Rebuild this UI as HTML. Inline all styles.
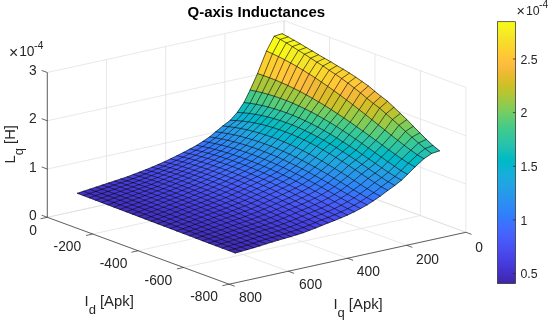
<!DOCTYPE html><html><head><meta charset="utf-8"><title>Q-axis Inductances</title><style>html,body{margin:0;padding:0;background:#fff;}svg{display:block;}</style></head><body><svg width="550" height="323" viewBox="0 0 550 323" font-family="Liberation Sans, Arial, Helvetica, sans-serif"><rect width="550" height="323" fill="#fff"/><defs><linearGradient id="pg" x1="0" y1="0" x2="0" y2="1"><stop offset="0.0000" stop-color="#f9fb15"/><stop offset="0.0159" stop-color="#f7f51b"/><stop offset="0.0317" stop-color="#f6ef20"/><stop offset="0.0476" stop-color="#f5e924"/><stop offset="0.0635" stop-color="#f5e327"/><stop offset="0.0794" stop-color="#f7dc2a"/><stop offset="0.0952" stop-color="#fad62d"/><stop offset="0.1111" stop-color="#fccf30"/><stop offset="0.1270" stop-color="#fec934"/><stop offset="0.1429" stop-color="#fec338"/><stop offset="0.1587" stop-color="#febe3c"/><stop offset="0.1746" stop-color="#f8ba3d"/><stop offset="0.1905" stop-color="#f0ba36"/><stop offset="0.2063" stop-color="#e6bb2d"/><stop offset="0.2222" stop-color="#dcbd29"/><stop offset="0.2381" stop-color="#d1bf27"/><stop offset="0.2540" stop-color="#c5c22a"/><stop offset="0.2698" stop-color="#b9c431"/><stop offset="0.2857" stop-color="#abc739"/><stop offset="0.3016" stop-color="#9dc943"/><stop offset="0.3175" stop-color="#8fcb4e"/><stop offset="0.3333" stop-color="#81cc59"/><stop offset="0.3492" stop-color="#72cd64"/><stop offset="0.3651" stop-color="#64cd6f"/><stop offset="0.3810" stop-color="#57cc7a"/><stop offset="0.3968" stop-color="#4acb84"/><stop offset="0.4127" stop-color="#3fca8e"/><stop offset="0.4286" stop-color="#37c897"/><stop offset="0.4444" stop-color="#31c69f"/><stop offset="0.4603" stop-color="#2cc4a7"/><stop offset="0.4762" stop-color="#24c1ae"/><stop offset="0.4921" stop-color="#19bfb6"/><stop offset="0.5079" stop-color="#0bbdbd"/><stop offset="0.5238" stop-color="#02bac3"/><stop offset="0.5397" stop-color="#01b8ca"/><stop offset="0.5556" stop-color="#08b5d0"/><stop offset="0.5714" stop-color="#12b1d6"/><stop offset="0.5873" stop-color="#18addb"/><stop offset="0.6032" stop-color="#1ca9df"/><stop offset="0.6190" stop-color="#20a5e3"/><stop offset="0.6349" stop-color="#23a0e5"/><stop offset="0.6508" stop-color="#259be8"/><stop offset="0.6667" stop-color="#2797eb"/><stop offset="0.6825" stop-color="#2b91ef"/><stop offset="0.6984" stop-color="#2d8cf3"/><stop offset="0.7143" stop-color="#2e87f7"/><stop offset="0.7302" stop-color="#2f81fa"/><stop offset="0.7460" stop-color="#327cfc"/><stop offset="0.7619" stop-color="#3875fe"/><stop offset="0.7778" stop-color="#3e6fff"/><stop offset="0.7937" stop-color="#4269fe"/><stop offset="0.8095" stop-color="#4563fd"/><stop offset="0.8254" stop-color="#465efb"/><stop offset="0.8413" stop-color="#4758f8"/><stop offset="0.8571" stop-color="#4852f4"/><stop offset="0.8730" stop-color="#484df0"/><stop offset="0.8889" stop-color="#4747eb"/><stop offset="0.9048" stop-color="#4741e5"/><stop offset="0.9206" stop-color="#463cde"/><stop offset="0.9365" stop-color="#4537d5"/><stop offset="0.9524" stop-color="#4332cb"/><stop offset="0.9683" stop-color="#422ec0"/><stop offset="0.9841" stop-color="#402ab4"/><stop offset="1.0000" stop-color="#3e26a8"/></linearGradient></defs>
<line x1="47.30" y1="217.30" x2="284.10" y2="165.40" stroke="#dedede" stroke-width="0.70"/>
<line x1="284.10" y1="165.40" x2="284.10" y2="20.59" stroke="#dedede" stroke-width="0.70"/>
<line x1="229.10" y1="284.20" x2="47.30" y2="217.30" stroke="#dedede" stroke-width="0.70"/>
<line x1="47.30" y1="217.30" x2="47.30" y2="72.49" stroke="#dedede" stroke-width="0.70"/>
<line x1="92.75" y1="234.03" x2="329.55" y2="182.13" stroke="#dedede" stroke-width="0.70"/>
<line x1="329.55" y1="182.13" x2="329.55" y2="37.32" stroke="#dedede" stroke-width="0.70"/>
<line x1="288.30" y1="271.23" x2="106.50" y2="204.33" stroke="#dedede" stroke-width="0.70"/>
<line x1="106.50" y1="204.33" x2="106.50" y2="59.52" stroke="#dedede" stroke-width="0.70"/>
<line x1="138.20" y1="250.75" x2="375.00" y2="198.85" stroke="#dedede" stroke-width="0.70"/>
<line x1="375.00" y1="198.85" x2="375.00" y2="54.04" stroke="#dedede" stroke-width="0.70"/>
<line x1="347.50" y1="258.25" x2="165.70" y2="191.35" stroke="#dedede" stroke-width="0.70"/>
<line x1="165.70" y1="191.35" x2="165.70" y2="46.54" stroke="#dedede" stroke-width="0.70"/>
<line x1="183.65" y1="267.48" x2="420.45" y2="215.58" stroke="#dedede" stroke-width="0.70"/>
<line x1="420.45" y1="215.58" x2="420.45" y2="70.77" stroke="#dedede" stroke-width="0.70"/>
<line x1="406.70" y1="245.28" x2="224.90" y2="178.38" stroke="#dedede" stroke-width="0.70"/>
<line x1="224.90" y1="178.38" x2="224.90" y2="33.57" stroke="#dedede" stroke-width="0.70"/>
<line x1="229.10" y1="284.20" x2="465.90" y2="232.30" stroke="#dedede" stroke-width="0.70"/>
<line x1="465.90" y1="232.30" x2="465.90" y2="87.49" stroke="#dedede" stroke-width="0.70"/>
<line x1="465.90" y1="232.30" x2="284.10" y2="165.40" stroke="#dedede" stroke-width="0.70"/>
<line x1="284.10" y1="165.40" x2="284.10" y2="20.59" stroke="#dedede" stroke-width="0.70"/>
<line x1="47.30" y1="217.30" x2="284.10" y2="165.40" stroke="#dedede" stroke-width="0.70"/>
<line x1="284.10" y1="165.40" x2="465.90" y2="232.30" stroke="#dedede" stroke-width="0.70"/>
<line x1="47.30" y1="169.03" x2="284.10" y2="117.13" stroke="#dedede" stroke-width="0.70"/>
<line x1="284.10" y1="117.13" x2="465.90" y2="184.03" stroke="#dedede" stroke-width="0.70"/>
<line x1="47.30" y1="120.76" x2="284.10" y2="68.86" stroke="#dedede" stroke-width="0.70"/>
<line x1="284.10" y1="68.86" x2="465.90" y2="135.76" stroke="#dedede" stroke-width="0.70"/>
<line x1="47.30" y1="72.49" x2="284.10" y2="20.59" stroke="#dedede" stroke-width="0.70"/>
<line x1="284.10" y1="20.59" x2="465.90" y2="87.49" stroke="#dedede" stroke-width="0.70"/>
<g stroke-width="0.35" stroke-linejoin="round"><polygon points="282.10,33.70 288.11,36.87 280.21,39.38 274.20,36.16" fill="#f9fb15" stroke="#f9fb15"/><polygon points="288.11,36.87 294.14,40.27 286.24,42.88 280.21,39.38" fill="#f9fb15" stroke="#f9fb15"/><polygon points="294.14,40.27 300.20,43.80 292.30,46.56 286.24,42.88" fill="#f7f51b" stroke="#f7f51b"/><polygon points="300.20,43.80 306.28,47.46 298.38,50.40 292.30,46.56" fill="#f7f51b" stroke="#f7f51b"/><polygon points="306.28,47.46 312.38,51.03 304.48,54.17 298.38,50.40" fill="#f6ef20" stroke="#f6ef20"/><polygon points="312.38,51.03 318.51,54.74 310.61,58.13 304.48,54.17" fill="#f5e924" stroke="#f5e924"/><polygon points="318.51,54.74 324.66,58.36 316.77,62.09 310.61,58.13" fill="#f5e327" stroke="#f5e327"/><polygon points="324.66,58.36 330.84,61.79 322.94,65.93 316.77,62.09" fill="#f5e327" stroke="#f5e327"/><polygon points="330.84,61.79 337.04,65.65 329.14,70.23 322.94,65.93" fill="#f7dc2a" stroke="#f7dc2a"/><polygon points="337.04,65.65 343.26,69.22 335.37,74.21 329.14,70.23" fill="#fad62d" stroke="#fad62d"/><polygon points="343.26,69.22 349.51,73.06 341.62,78.48 335.37,74.21" fill="#fccf30" stroke="#fccf30"/><polygon points="349.51,73.06 355.78,77.16 347.89,83.08 341.62,78.48" fill="#fccf30" stroke="#fccf30"/><polygon points="355.78,77.16 362.08,81.47 354.19,87.88 347.89,83.08" fill="#fec934" stroke="#fec934"/><polygon points="362.08,81.47 368.40,85.99 360.51,92.81 354.19,87.88" fill="#fec338" stroke="#fec338"/><polygon points="368.40,85.99 374.74,91.23 366.85,98.25 360.51,92.81" fill="#f8ba3d" stroke="#f8ba3d"/><polygon points="374.74,91.23 381.11,96.39 373.22,103.39 366.85,98.25" fill="#f0ba36" stroke="#f0ba36"/><polygon points="381.11,96.39 387.50,101.29 379.61,108.10 373.22,103.39" fill="#dcbd29" stroke="#dcbd29"/><polygon points="387.50,101.29 393.92,107.25 386.03,113.75 379.61,108.10" fill="#d1bf27" stroke="#d1bf27"/><polygon points="393.92,107.25 400.36,113.41 392.47,119.51 386.03,113.75" fill="#b9c431" stroke="#b9c431"/><polygon points="400.36,113.41 406.82,119.57 398.93,125.24 392.47,119.51" fill="#9dc943" stroke="#9dc943"/><polygon points="406.82,119.57 413.31,126.28 405.42,131.37 398.93,125.24" fill="#81cc59" stroke="#81cc59"/><polygon points="413.31,126.28 419.82,132.82 411.93,137.14 405.42,131.37" fill="#64cd6f" stroke="#64cd6f"/><polygon points="419.82,132.82 426.36,139.36 418.47,143.03 411.93,137.14" fill="#4acb84" stroke="#4acb84"/><polygon points="426.36,139.36 432.92,145.43 425.03,148.58 418.47,143.03" fill="#31c69f" stroke="#31c69f"/><polygon points="432.92,145.43 439.50,150.80 431.62,153.50 425.03,148.58" fill="#24c1ae" stroke="#24c1ae"/><polygon points="274.20,36.16 280.21,39.38 272.51,53.72 266.50,51.00" fill="#f9fb15" stroke="#f9fb15"/><polygon points="280.21,39.38 286.24,42.88 278.54,56.64 272.51,53.72" fill="#f9fb15" stroke="#f9fb15"/><polygon points="286.24,42.88 292.30,46.56 284.60,59.73 278.54,56.64" fill="#f7f51b" stroke="#f7f51b"/><polygon points="292.30,46.56 298.38,50.40 290.68,63.01 284.60,59.73" fill="#f6ef20" stroke="#f6ef20"/><polygon points="298.38,50.40 304.48,54.17 296.79,66.47 290.68,63.01" fill="#f5e924" stroke="#f5e924"/><polygon points="304.48,54.17 310.61,58.13 302.92,70.10 296.79,66.47" fill="#f5e327" stroke="#f5e327"/><polygon points="310.61,58.13 316.77,62.09 309.07,73.91 302.92,70.10" fill="#f7dc2a" stroke="#f7dc2a"/><polygon points="316.77,62.09 322.94,65.93 315.25,77.87 309.07,73.91" fill="#f7dc2a" stroke="#f7dc2a"/><polygon points="322.94,65.93 329.14,70.23 321.45,82.00 315.25,77.87" fill="#fad62d" stroke="#fad62d"/><polygon points="329.14,70.23 335.37,74.21 327.67,86.28 321.45,82.00" fill="#fccf30" stroke="#fccf30"/><polygon points="335.37,74.21 341.62,78.48 333.92,90.70 327.67,86.28" fill="#fec934" stroke="#fec934"/><polygon points="341.62,78.48 347.89,83.08 340.20,95.25 333.92,90.70" fill="#fec338" stroke="#fec338"/><polygon points="347.89,83.08 354.19,87.88 346.49,99.94 340.20,95.25" fill="#f8ba3d" stroke="#f8ba3d"/><polygon points="354.19,87.88 360.51,92.81 352.81,104.74 346.49,99.94" fill="#f0ba36" stroke="#f0ba36"/><polygon points="360.51,92.81 366.85,98.25 359.16,109.65 352.81,104.74" fill="#e6bb2d" stroke="#e6bb2d"/><polygon points="366.85,98.25 373.22,103.39 365.53,114.64 359.16,109.65" fill="#d1bf27" stroke="#d1bf27"/><polygon points="373.22,103.39 379.61,108.10 371.92,119.72 365.53,114.64" fill="#c5c22a" stroke="#c5c22a"/><polygon points="379.61,108.10 386.03,113.75 378.34,124.84 371.92,119.72" fill="#abc739" stroke="#abc739"/><polygon points="386.03,113.75 392.47,119.51 384.78,130.00 378.34,124.84" fill="#9dc943" stroke="#9dc943"/><polygon points="392.47,119.51 398.93,125.24 391.24,135.16 384.78,130.00" fill="#81cc59" stroke="#81cc59"/><polygon points="398.93,125.24 405.42,131.37 397.73,140.29 391.24,135.16" fill="#64cd6f" stroke="#64cd6f"/><polygon points="405.42,131.37 411.93,137.14 404.25,145.33 397.73,140.29" fill="#4acb84" stroke="#4acb84"/><polygon points="411.93,137.14 418.47,143.03 410.78,150.21 404.25,145.33" fill="#37c897" stroke="#37c897"/><polygon points="418.47,143.03 425.03,148.58 417.35,154.80 410.78,150.21" fill="#2cc4a7" stroke="#2cc4a7"/><polygon points="425.03,148.58 431.62,153.50 423.93,158.72 417.35,154.80" fill="#24c1ae" stroke="#24c1ae"/><polygon points="266.50,51.00 272.51,53.72 263.51,75.59 257.50,73.60" fill="#fccf30" stroke="#fccf30"/><polygon points="272.51,53.72 278.54,56.64 269.54,77.78 263.51,75.59" fill="#fccf30" stroke="#fccf30"/><polygon points="278.54,56.64 284.60,59.73 275.60,80.16 269.54,77.78" fill="#fec934" stroke="#fec934"/><polygon points="284.60,59.73 290.68,63.01 281.68,82.73 275.60,80.16" fill="#fec934" stroke="#fec934"/><polygon points="290.68,63.01 296.79,66.47 287.79,85.49 281.68,82.73" fill="#fec338" stroke="#fec338"/><polygon points="296.79,66.47 302.92,70.10 293.92,88.43 287.79,85.49" fill="#fec338" stroke="#fec338"/><polygon points="302.92,70.10 309.07,73.91 300.07,91.54 293.92,88.43" fill="#febe3c" stroke="#febe3c"/><polygon points="309.07,73.91 315.25,77.87 306.25,94.83 300.07,91.54" fill="#f8ba3d" stroke="#f8ba3d"/><polygon points="315.25,77.87 321.45,82.00 312.45,98.29 306.25,94.83" fill="#f0ba36" stroke="#f0ba36"/><polygon points="321.45,82.00 327.67,86.28 318.68,101.91 312.45,98.29" fill="#e6bb2d" stroke="#e6bb2d"/><polygon points="327.67,86.28 333.92,90.70 324.93,105.68 318.68,101.91" fill="#dcbd29" stroke="#dcbd29"/><polygon points="333.92,90.70 340.20,95.25 331.20,109.61 324.93,105.68" fill="#d1bf27" stroke="#d1bf27"/><polygon points="340.20,95.25 346.49,99.94 337.50,113.68 331.20,109.61" fill="#c5c22a" stroke="#c5c22a"/><polygon points="346.49,99.94 352.81,104.74 343.82,117.87 337.50,113.68" fill="#b9c431" stroke="#b9c431"/><polygon points="352.81,104.74 359.16,109.65 350.17,122.19 343.82,117.87" fill="#9dc943" stroke="#9dc943"/><polygon points="359.16,109.65 365.53,114.64 356.54,126.62 350.17,122.19" fill="#8fcb4e" stroke="#8fcb4e"/><polygon points="365.53,114.64 371.92,119.72 362.93,131.14 356.54,126.62" fill="#81cc59" stroke="#81cc59"/><polygon points="371.92,119.72 378.34,124.84 369.35,135.74 362.93,131.14" fill="#64cd6f" stroke="#64cd6f"/><polygon points="378.34,124.84 384.78,130.00 375.79,140.39 369.35,135.74" fill="#57cc7a" stroke="#57cc7a"/><polygon points="384.78,130.00 391.24,135.16 382.26,145.08 375.79,140.39" fill="#3fca8e" stroke="#3fca8e"/><polygon points="391.24,135.16 397.73,140.29 388.75,149.76 382.26,145.08" fill="#37c897" stroke="#37c897"/><polygon points="397.73,140.29 404.25,145.33 395.26,154.40 388.75,149.76" fill="#2cc4a7" stroke="#2cc4a7"/><polygon points="404.25,145.33 410.78,150.21 401.80,158.92 395.26,154.40" fill="#24c1ae" stroke="#24c1ae"/><polygon points="410.78,150.21 417.35,154.80 408.36,163.22 401.80,158.92" fill="#0bbdbd" stroke="#0bbdbd"/><polygon points="417.35,154.80 423.93,158.72 414.95,166.96 408.36,163.22" fill="#02bac3" stroke="#02bac3"/><polygon points="257.50,73.60 263.51,75.59 256.11,91.28 250.10,90.10" fill="#abc739" stroke="#abc739"/><polygon points="263.51,75.59 269.54,77.78 262.15,92.69 256.11,91.28" fill="#abc739" stroke="#abc739"/><polygon points="269.54,77.78 275.60,80.16 268.20,94.34 262.15,92.69" fill="#abc739" stroke="#abc739"/><polygon points="275.60,80.16 281.68,82.73 274.29,96.21 268.20,94.34" fill="#abc739" stroke="#abc739"/><polygon points="281.68,82.73 287.79,85.49 280.39,98.30 274.29,96.21" fill="#abc739" stroke="#abc739"/><polygon points="287.79,85.49 293.92,88.43 286.52,100.62 280.39,98.30" fill="#abc739" stroke="#abc739"/><polygon points="293.92,88.43 300.07,91.54 292.68,103.15 286.52,100.62" fill="#9dc943" stroke="#9dc943"/><polygon points="300.07,91.54 306.25,94.83 298.86,105.90 292.68,103.15" fill="#9dc943" stroke="#9dc943"/><polygon points="306.25,94.83 312.45,98.29 305.06,108.85 298.86,105.90" fill="#8fcb4e" stroke="#8fcb4e"/><polygon points="312.45,98.29 318.68,101.91 311.29,112.00 305.06,108.85" fill="#8fcb4e" stroke="#8fcb4e"/><polygon points="318.68,101.91 324.93,105.68 317.54,115.35 311.29,112.00" fill="#81cc59" stroke="#81cc59"/><polygon points="324.93,105.68 331.20,109.61 323.81,118.88 317.54,115.35" fill="#72cd64" stroke="#72cd64"/><polygon points="331.20,109.61 337.50,113.68 330.11,122.60 323.81,118.88" fill="#64cd6f" stroke="#64cd6f"/><polygon points="337.50,113.68 343.82,117.87 336.43,126.48 330.11,122.60" fill="#57cc7a" stroke="#57cc7a"/><polygon points="343.82,117.87 350.17,122.19 342.78,130.52 336.43,126.48" fill="#4acb84" stroke="#4acb84"/><polygon points="350.17,122.19 356.54,126.62 349.15,134.70 342.78,130.52" fill="#3fca8e" stroke="#3fca8e"/><polygon points="356.54,126.62 362.93,131.14 355.54,139.02 349.15,134.70" fill="#37c897" stroke="#37c897"/><polygon points="362.93,131.14 369.35,135.74 361.96,143.45 355.54,139.02" fill="#31c69f" stroke="#31c69f"/><polygon points="369.35,135.74 375.79,140.39 368.40,147.96 361.96,143.45" fill="#2cc4a7" stroke="#2cc4a7"/><polygon points="375.79,140.39 382.26,145.08 374.87,152.55 368.40,147.96" fill="#24c1ae" stroke="#24c1ae"/><polygon points="382.26,145.08 388.75,149.76 381.36,157.16 374.87,152.55" fill="#0bbdbd" stroke="#0bbdbd"/><polygon points="388.75,149.76 395.26,154.40 387.88,161.76 381.36,157.16" fill="#02bac3" stroke="#02bac3"/><polygon points="395.26,154.40 401.80,158.92 394.41,166.27 387.88,161.76" fill="#01b8ca" stroke="#01b8ca"/><polygon points="401.80,158.92 408.36,163.22 400.98,170.59 394.41,166.27" fill="#08b5d0" stroke="#08b5d0"/><polygon points="408.36,163.22 414.95,166.96 407.56,174.35 400.98,170.59" fill="#12b1d6" stroke="#12b1d6"/><polygon points="250.10,90.10 256.11,91.28 250.01,103.27 244.00,102.50" fill="#3fca8e" stroke="#3fca8e"/><polygon points="256.11,91.28 262.15,92.69 256.05,104.28 250.01,103.27" fill="#4acb84" stroke="#4acb84"/><polygon points="262.15,92.69 268.20,94.34 262.11,105.53 256.05,104.28" fill="#4acb84" stroke="#4acb84"/><polygon points="268.20,94.34 274.29,96.21 268.19,107.02 262.11,105.53" fill="#4acb84" stroke="#4acb84"/><polygon points="274.29,96.21 280.39,98.30 274.30,108.75 268.19,107.02" fill="#57cc7a" stroke="#57cc7a"/><polygon points="280.39,98.30 286.52,100.62 280.43,110.71 274.30,108.75" fill="#57cc7a" stroke="#57cc7a"/><polygon points="286.52,100.62 292.68,103.15 286.58,112.89 280.43,110.71" fill="#57cc7a" stroke="#57cc7a"/><polygon points="292.68,103.15 298.86,105.90 292.76,115.30 286.58,112.89" fill="#4acb84" stroke="#4acb84"/><polygon points="298.86,105.90 305.06,108.85 298.96,117.93 292.76,115.30" fill="#4acb84" stroke="#4acb84"/><polygon points="305.06,108.85 311.29,112.00 305.19,120.77 298.96,117.93" fill="#4acb84" stroke="#4acb84"/><polygon points="311.29,112.00 317.54,115.35 311.44,123.81 305.19,120.77" fill="#3fca8e" stroke="#3fca8e"/><polygon points="317.54,115.35 323.81,118.88 317.72,127.06 311.44,123.81" fill="#3fca8e" stroke="#3fca8e"/><polygon points="323.81,118.88 330.11,122.60 324.02,130.50 317.72,127.06" fill="#37c897" stroke="#37c897"/><polygon points="330.11,122.60 336.43,126.48 330.34,134.11 324.02,130.50" fill="#31c69f" stroke="#31c69f"/><polygon points="336.43,126.48 342.78,130.52 336.68,137.90 330.34,134.11" fill="#31c69f" stroke="#31c69f"/><polygon points="342.78,130.52 349.15,134.70 343.06,141.85 336.68,137.90" fill="#2cc4a7" stroke="#2cc4a7"/><polygon points="349.15,134.70 355.54,139.02 349.45,145.95 343.06,141.85" fill="#24c1ae" stroke="#24c1ae"/><polygon points="355.54,139.02 361.96,143.45 355.87,150.17 349.45,145.95" fill="#19bfb6" stroke="#19bfb6"/><polygon points="361.96,143.45 368.40,147.96 362.31,154.49 355.87,150.17" fill="#0bbdbd" stroke="#0bbdbd"/><polygon points="368.40,147.96 374.87,152.55 368.78,158.90 362.31,154.49" fill="#01b8ca" stroke="#01b8ca"/><polygon points="374.87,152.55 381.36,157.16 375.27,163.35 368.78,158.90" fill="#08b5d0" stroke="#08b5d0"/><polygon points="381.36,157.16 387.88,161.76 381.79,167.81 375.27,163.35" fill="#12b1d6" stroke="#12b1d6"/><polygon points="387.88,161.76 394.41,166.27 388.32,172.21 381.79,167.81" fill="#18addb" stroke="#18addb"/><polygon points="394.41,166.27 400.98,170.59 394.89,176.44 388.32,172.21" fill="#1ca9df" stroke="#1ca9df"/><polygon points="400.98,170.59 407.56,174.35 401.47,180.15 394.89,176.44" fill="#20a5e3" stroke="#20a5e3"/><polygon points="244.00,102.50 250.01,103.27 243.31,112.78 237.30,112.40" fill="#0bbdbd" stroke="#0bbdbd"/><polygon points="250.01,103.27 256.05,104.28 249.35,113.42 243.31,112.78" fill="#19bfb6" stroke="#19bfb6"/><polygon points="256.05,104.28 262.11,105.53 255.41,114.33 249.35,113.42" fill="#24c1ae" stroke="#24c1ae"/><polygon points="262.11,105.53 268.19,107.02 261.49,115.48 255.41,114.33" fill="#24c1ae" stroke="#24c1ae"/><polygon points="268.19,107.02 274.30,108.75 267.60,116.89 261.49,115.48" fill="#2cc4a7" stroke="#2cc4a7"/><polygon points="274.30,108.75 280.43,110.71 273.73,118.55 267.60,116.89" fill="#2cc4a7" stroke="#2cc4a7"/><polygon points="280.43,110.71 286.58,112.89 279.88,120.45 273.73,118.55" fill="#2cc4a7" stroke="#2cc4a7"/><polygon points="286.58,112.89 292.76,115.30 286.06,122.59 279.88,120.45" fill="#2cc4a7" stroke="#2cc4a7"/><polygon points="292.76,115.30 298.96,117.93 292.27,124.97 286.06,122.59" fill="#2cc4a7" stroke="#2cc4a7"/><polygon points="298.96,117.93 305.19,120.77 298.50,127.58 292.27,124.97" fill="#2cc4a7" stroke="#2cc4a7"/><polygon points="305.19,120.77 311.44,123.81 304.75,130.41 298.50,127.58" fill="#24c1ae" stroke="#24c1ae"/><polygon points="311.44,123.81 317.72,127.06 311.02,133.46 304.75,130.41" fill="#24c1ae" stroke="#24c1ae"/><polygon points="317.72,127.06 324.02,130.50 317.32,136.72 311.02,133.46" fill="#24c1ae" stroke="#24c1ae"/><polygon points="324.02,130.50 330.34,134.11 323.65,140.17 317.32,136.72" fill="#19bfb6" stroke="#19bfb6"/><polygon points="330.34,134.11 336.68,137.90 329.99,143.81 323.65,140.17" fill="#0bbdbd" stroke="#0bbdbd"/><polygon points="336.68,137.90 343.06,141.85 336.36,147.63 329.99,143.81" fill="#02bac3" stroke="#02bac3"/><polygon points="343.06,141.85 349.45,145.95 342.76,151.61 336.36,147.63" fill="#02bac3" stroke="#02bac3"/><polygon points="349.45,145.95 355.87,150.17 349.18,155.73 342.76,151.61" fill="#01b8ca" stroke="#01b8ca"/><polygon points="355.87,150.17 362.31,154.49 355.62,159.98 349.18,155.73" fill="#08b5d0" stroke="#08b5d0"/><polygon points="362.31,154.49 368.78,158.90 362.09,164.32 355.62,159.98" fill="#12b1d6" stroke="#12b1d6"/><polygon points="368.78,158.90 375.27,163.35 368.58,168.73 362.09,164.32" fill="#18addb" stroke="#18addb"/><polygon points="375.27,163.35 381.79,167.81 375.10,173.15 368.58,168.73" fill="#20a5e3" stroke="#20a5e3"/><polygon points="381.79,167.81 388.32,172.21 381.64,177.53 375.10,173.15" fill="#23a0e5" stroke="#23a0e5"/><polygon points="388.32,172.21 394.89,176.44 388.20,181.75 381.64,177.53" fill="#259be8" stroke="#259be8"/><polygon points="394.89,176.44 401.47,180.15 394.79,185.47 388.20,181.75" fill="#2797eb" stroke="#2797eb"/><polygon points="237.30,112.40 243.31,112.78 236.31,120.58 230.30,120.30" fill="#12b1d6" stroke="#12b1d6"/><polygon points="243.31,112.78 249.35,113.42 242.35,121.11 236.31,120.58" fill="#08b5d0" stroke="#08b5d0"/><polygon points="249.35,113.42 255.41,114.33 248.41,121.90 242.35,121.11" fill="#08b5d0" stroke="#08b5d0"/><polygon points="255.41,114.33 261.49,115.48 254.49,122.95 248.41,121.90" fill="#01b8ca" stroke="#01b8ca"/><polygon points="261.49,115.48 267.60,116.89 260.60,124.24 254.49,122.95" fill="#02bac3" stroke="#02bac3"/><polygon points="267.60,116.89 273.73,118.55 266.73,125.78 260.60,124.24" fill="#02bac3" stroke="#02bac3"/><polygon points="273.73,118.55 279.88,120.45 272.89,127.56 266.73,125.78" fill="#0bbdbd" stroke="#0bbdbd"/><polygon points="279.88,120.45 286.06,122.59 279.07,129.58 272.89,127.56" fill="#0bbdbd" stroke="#0bbdbd"/><polygon points="286.06,122.59 292.27,124.97 285.27,131.83 279.07,129.58" fill="#0bbdbd" stroke="#0bbdbd"/><polygon points="292.27,124.97 298.50,127.58 291.50,134.31 285.27,131.83" fill="#0bbdbd" stroke="#0bbdbd"/><polygon points="298.50,127.58 304.75,130.41 297.75,137.01 291.50,134.31" fill="#0bbdbd" stroke="#0bbdbd"/><polygon points="304.75,130.41 311.02,133.46 304.03,139.93 297.75,137.01" fill="#02bac3" stroke="#02bac3"/><polygon points="311.02,133.46 317.32,136.72 310.33,143.05 304.03,139.93" fill="#02bac3" stroke="#02bac3"/><polygon points="317.32,136.72 323.65,140.17 316.65,146.37 310.33,143.05" fill="#01b8ca" stroke="#01b8ca"/><polygon points="323.65,140.17 329.99,143.81 323.00,149.88 316.65,146.37" fill="#01b8ca" stroke="#01b8ca"/><polygon points="329.99,143.81 336.36,147.63 329.37,153.57 323.00,149.88" fill="#08b5d0" stroke="#08b5d0"/><polygon points="336.36,147.63 342.76,151.61 335.77,157.42 329.37,153.57" fill="#12b1d6" stroke="#12b1d6"/><polygon points="342.76,151.61 349.18,155.73 342.19,161.41 335.77,157.42" fill="#18addb" stroke="#18addb"/><polygon points="349.18,155.73 355.62,159.98 348.63,165.53 342.19,161.41" fill="#18addb" stroke="#18addb"/><polygon points="355.62,159.98 362.09,164.32 355.10,169.74 348.63,165.53" fill="#1ca9df" stroke="#1ca9df"/><polygon points="362.09,164.32 368.58,168.73 361.59,174.03 355.10,169.74" fill="#23a0e5" stroke="#23a0e5"/><polygon points="368.58,168.73 375.10,173.15 368.11,178.34 361.59,174.03" fill="#259be8" stroke="#259be8"/><polygon points="375.10,173.15 381.64,177.53 374.65,182.62 368.11,178.34" fill="#2797eb" stroke="#2797eb"/><polygon points="381.64,177.53 388.20,181.75 381.21,186.75 374.65,182.62" fill="#2b91ef" stroke="#2b91ef"/><polygon points="388.20,181.75 394.79,185.47 387.80,190.41 381.21,186.75" fill="#2d8cf3" stroke="#2d8cf3"/><polygon points="230.30,120.30 236.31,120.58 228.81,126.62 222.80,126.00" fill="#23a0e5" stroke="#23a0e5"/><polygon points="236.31,120.58 242.35,121.11 234.85,127.46 228.81,126.62" fill="#20a5e3" stroke="#20a5e3"/><polygon points="242.35,121.11 248.41,121.90 240.91,128.52 234.85,127.46" fill="#1ca9df" stroke="#1ca9df"/><polygon points="248.41,121.90 254.49,122.95 246.99,129.80 240.91,128.52" fill="#18addb" stroke="#18addb"/><polygon points="254.49,122.95 260.60,124.24 253.10,131.29 246.99,129.80" fill="#12b1d6" stroke="#12b1d6"/><polygon points="260.60,124.24 266.73,125.78 259.24,133.00 253.10,131.29" fill="#12b1d6" stroke="#12b1d6"/><polygon points="266.73,125.78 272.89,127.56 265.39,134.93 259.24,133.00" fill="#08b5d0" stroke="#08b5d0"/><polygon points="272.89,127.56 279.07,129.58 271.57,137.05 265.39,134.93" fill="#08b5d0" stroke="#08b5d0"/><polygon points="279.07,129.58 285.27,131.83 277.78,139.39 271.57,137.05" fill="#08b5d0" stroke="#08b5d0"/><polygon points="285.27,131.83 291.50,134.31 284.01,141.91 277.78,139.39" fill="#08b5d0" stroke="#08b5d0"/><polygon points="291.50,134.31 297.75,137.01 290.26,144.64 284.01,141.91" fill="#08b5d0" stroke="#08b5d0"/><polygon points="297.75,137.01 304.03,139.93 296.54,147.54 290.26,144.64" fill="#08b5d0" stroke="#08b5d0"/><polygon points="304.03,139.93 310.33,143.05 302.84,150.63 296.54,147.54" fill="#12b1d6" stroke="#12b1d6"/><polygon points="310.33,143.05 316.65,146.37 309.16,153.89 302.84,150.63" fill="#12b1d6" stroke="#12b1d6"/><polygon points="316.65,146.37 323.00,149.88 315.51,157.31 309.16,153.89" fill="#18addb" stroke="#18addb"/><polygon points="323.00,149.88 329.37,153.57 321.88,160.88 315.51,157.31" fill="#18addb" stroke="#18addb"/><polygon points="329.37,153.57 335.77,157.42 328.28,164.59 321.88,160.88" fill="#1ca9df" stroke="#1ca9df"/><polygon points="335.77,157.42 342.19,161.41 334.70,168.43 328.28,164.59" fill="#20a5e3" stroke="#20a5e3"/><polygon points="342.19,161.41 348.63,165.53 341.14,172.37 334.70,168.43" fill="#23a0e5" stroke="#23a0e5"/><polygon points="348.63,165.53 355.10,169.74 347.61,176.40 341.14,172.37" fill="#259be8" stroke="#259be8"/><polygon points="355.10,169.74 361.59,174.03 354.11,180.49 347.61,176.40" fill="#2797eb" stroke="#2797eb"/><polygon points="361.59,174.03 368.11,178.34 360.62,184.59 354.11,180.49" fill="#2b91ef" stroke="#2b91ef"/><polygon points="368.11,178.34 374.65,182.62 367.16,188.66 360.62,184.59" fill="#2d8cf3" stroke="#2d8cf3"/><polygon points="374.65,182.62 381.21,186.75 373.73,192.60 367.16,188.66" fill="#2e87f7" stroke="#2e87f7"/><polygon points="381.21,186.75 387.80,190.41 380.32,196.12 373.73,192.60" fill="#2f81fa" stroke="#2f81fa"/><polygon points="222.80,126.00 228.81,126.62 221.71,132.60 215.70,131.80" fill="#2797eb" stroke="#2797eb"/><polygon points="228.81,126.62 234.85,127.46 227.75,133.61 221.71,132.60" fill="#259be8" stroke="#259be8"/><polygon points="234.85,127.46 240.91,128.52 233.81,134.81 227.75,133.61" fill="#23a0e5" stroke="#23a0e5"/><polygon points="240.91,128.52 246.99,129.80 239.90,136.21 233.81,134.81" fill="#23a0e5" stroke="#23a0e5"/><polygon points="246.99,129.80 253.10,131.29 246.01,137.80 239.90,136.21" fill="#20a5e3" stroke="#20a5e3"/><polygon points="253.10,131.29 259.24,133.00 252.14,139.59 246.01,137.80" fill="#20a5e3" stroke="#20a5e3"/><polygon points="259.24,133.00 265.39,134.93 258.30,141.56 252.14,139.59" fill="#1ca9df" stroke="#1ca9df"/><polygon points="265.39,134.93 271.57,137.05 264.48,143.72 258.30,141.56" fill="#1ca9df" stroke="#1ca9df"/><polygon points="271.57,137.05 277.78,139.39 270.68,146.06 264.48,143.72" fill="#1ca9df" stroke="#1ca9df"/><polygon points="277.78,139.39 284.01,141.91 276.91,148.57 270.68,146.06" fill="#1ca9df" stroke="#1ca9df"/><polygon points="284.01,141.91 290.26,144.64 283.16,151.26 276.91,148.57" fill="#1ca9df" stroke="#1ca9df"/><polygon points="290.26,144.64 296.54,147.54 289.44,154.12 283.16,151.26" fill="#20a5e3" stroke="#20a5e3"/><polygon points="296.54,147.54 302.84,150.63 295.74,157.13 289.44,154.12" fill="#20a5e3" stroke="#20a5e3"/><polygon points="302.84,150.63 309.16,153.89 302.07,160.30 295.74,157.13" fill="#20a5e3" stroke="#20a5e3"/><polygon points="309.16,153.89 315.51,157.31 308.42,163.62 302.07,160.30" fill="#23a0e5" stroke="#23a0e5"/><polygon points="315.51,157.31 321.88,160.88 314.79,167.07 308.42,163.62" fill="#23a0e5" stroke="#23a0e5"/><polygon points="321.88,160.88 328.28,164.59 321.19,170.64 314.79,167.07" fill="#259be8" stroke="#259be8"/><polygon points="328.28,164.59 334.70,168.43 327.61,174.33 321.19,170.64" fill="#2797eb" stroke="#2797eb"/><polygon points="334.70,168.43 341.14,172.37 334.05,178.11 327.61,174.33" fill="#2b91ef" stroke="#2b91ef"/><polygon points="341.14,172.37 347.61,176.40 340.52,181.97 334.05,178.11" fill="#2b91ef" stroke="#2b91ef"/><polygon points="347.61,176.40 354.11,180.49 347.02,185.88 340.52,181.97" fill="#2d8cf3" stroke="#2d8cf3"/><polygon points="354.11,180.49 360.62,184.59 353.53,189.81 347.02,185.88" fill="#2e87f7" stroke="#2e87f7"/><polygon points="360.62,184.59 367.16,188.66 360.08,193.70 353.53,189.81" fill="#2f81fa" stroke="#2f81fa"/><polygon points="367.16,188.66 373.73,192.60 366.64,197.48 360.08,193.70" fill="#327cfc" stroke="#327cfc"/><polygon points="373.73,192.60 380.32,196.12 373.23,200.89 366.64,197.48" fill="#3875fe" stroke="#3875fe"/><polygon points="215.70,131.80 221.71,132.60 215.61,137.85 209.60,136.90" fill="#2d8cf3" stroke="#2d8cf3"/><polygon points="221.71,132.60 227.75,133.61 221.65,138.97 215.61,137.85" fill="#2b91ef" stroke="#2b91ef"/><polygon points="227.75,133.61 233.81,134.81 227.71,140.28 221.65,138.97" fill="#2b91ef" stroke="#2b91ef"/><polygon points="233.81,134.81 239.90,136.21 233.80,141.76 227.71,140.28" fill="#2797eb" stroke="#2797eb"/><polygon points="239.90,136.21 246.01,137.80 239.91,143.42 233.80,141.76" fill="#2797eb" stroke="#2797eb"/><polygon points="246.01,137.80 252.14,139.59 246.04,145.25 239.91,143.42" fill="#259be8" stroke="#259be8"/><polygon points="252.14,139.59 258.30,141.56 252.20,147.25 246.04,145.25" fill="#259be8" stroke="#259be8"/><polygon points="258.30,141.56 264.48,143.72 258.38,149.42 252.20,147.25" fill="#259be8" stroke="#259be8"/><polygon points="264.48,143.72 270.68,146.06 264.59,151.76 258.38,149.42" fill="#259be8" stroke="#259be8"/><polygon points="270.68,146.06 276.91,148.57 270.82,154.25 264.59,151.76" fill="#259be8" stroke="#259be8"/><polygon points="276.91,148.57 283.16,151.26 277.07,156.90 270.82,154.25" fill="#259be8" stroke="#259be8"/><polygon points="283.16,151.26 289.44,154.12 283.35,159.70 277.07,156.90" fill="#259be8" stroke="#259be8"/><polygon points="289.44,154.12 295.74,157.13 289.65,162.65 283.35,159.70" fill="#2797eb" stroke="#2797eb"/><polygon points="295.74,157.13 302.07,160.30 295.97,165.73 289.65,162.65" fill="#2797eb" stroke="#2797eb"/><polygon points="302.07,160.30 308.42,163.62 302.32,168.95 295.97,165.73" fill="#2797eb" stroke="#2797eb"/><polygon points="308.42,163.62 314.79,167.07 308.70,172.29 302.32,168.95" fill="#2b91ef" stroke="#2b91ef"/><polygon points="314.79,167.07 321.19,170.64 315.10,175.74 308.70,172.29" fill="#2d8cf3" stroke="#2d8cf3"/><polygon points="321.19,170.64 327.61,174.33 321.52,179.29 315.10,175.74" fill="#2d8cf3" stroke="#2d8cf3"/><polygon points="327.61,174.33 334.05,178.11 327.96,182.93 321.52,179.29" fill="#2e87f7" stroke="#2e87f7"/><polygon points="334.05,178.11 340.52,181.97 334.43,186.65 327.96,182.93" fill="#2f81fa" stroke="#2f81fa"/><polygon points="340.52,181.97 347.02,185.88 340.93,190.40 334.43,186.65" fill="#2f81fa" stroke="#2f81fa"/><polygon points="347.02,185.88 353.53,189.81 347.44,194.18 340.93,190.40" fill="#327cfc" stroke="#327cfc"/><polygon points="353.53,189.81 360.08,193.70 353.99,197.92 347.44,194.18" fill="#3875fe" stroke="#3875fe"/><polygon points="360.08,193.70 366.64,197.48 360.55,201.56 353.99,197.92" fill="#3e6fff" stroke="#3e6fff"/><polygon points="366.64,197.48 373.23,200.89 367.14,204.87 360.55,201.56" fill="#4269fe" stroke="#4269fe"/><polygon points="209.60,136.90 215.61,137.85 209.11,142.37 203.10,141.30" fill="#2f81fa" stroke="#2f81fa"/><polygon points="215.61,137.85 221.65,138.97 215.15,143.61 209.11,142.37" fill="#2e87f7" stroke="#2e87f7"/><polygon points="221.65,138.97 227.71,140.28 221.21,145.02 215.15,143.61" fill="#2e87f7" stroke="#2e87f7"/><polygon points="227.71,140.28 233.80,141.76 227.30,146.58 221.21,145.02" fill="#2d8cf3" stroke="#2d8cf3"/><polygon points="233.80,141.76 239.91,143.42 233.41,148.30 227.30,146.58" fill="#2d8cf3" stroke="#2d8cf3"/><polygon points="239.91,143.42 246.04,145.25 239.54,150.18 233.41,148.30" fill="#2d8cf3" stroke="#2d8cf3"/><polygon points="246.04,145.25 252.20,147.25 245.70,152.22 239.54,150.18" fill="#2b91ef" stroke="#2b91ef"/><polygon points="252.20,147.25 258.38,149.42 251.88,154.40 245.70,152.22" fill="#2b91ef" stroke="#2b91ef"/><polygon points="258.38,149.42 264.59,151.76 258.09,156.74 251.88,154.40" fill="#2b91ef" stroke="#2b91ef"/><polygon points="264.59,151.76 270.82,154.25 264.32,159.22 258.09,156.74" fill="#2b91ef" stroke="#2b91ef"/><polygon points="270.82,154.25 277.07,156.90 270.58,161.84 264.32,159.22" fill="#2b91ef" stroke="#2b91ef"/><polygon points="277.07,156.90 283.35,159.70 276.85,164.61 270.58,161.84" fill="#2d8cf3" stroke="#2d8cf3"/><polygon points="283.35,159.70 289.65,162.65 283.16,167.50 276.85,164.61" fill="#2d8cf3" stroke="#2d8cf3"/><polygon points="289.65,162.65 295.97,165.73 289.48,170.52 283.16,167.50" fill="#2d8cf3" stroke="#2d8cf3"/><polygon points="295.97,165.73 302.32,168.95 295.83,173.66 289.48,170.52" fill="#2e87f7" stroke="#2e87f7"/><polygon points="302.32,168.95 308.70,172.29 302.21,176.91 295.83,173.66" fill="#2e87f7" stroke="#2e87f7"/><polygon points="308.70,172.29 315.10,175.74 308.60,180.26 302.21,176.91" fill="#2f81fa" stroke="#2f81fa"/><polygon points="315.10,175.74 321.52,179.29 315.03,183.71 308.60,180.26" fill="#2f81fa" stroke="#2f81fa"/><polygon points="321.52,179.29 327.96,182.93 321.47,187.23 315.03,183.71" fill="#327cfc" stroke="#327cfc"/><polygon points="327.96,182.93 334.43,186.65 327.94,190.82 321.47,187.23" fill="#3875fe" stroke="#3875fe"/><polygon points="334.43,186.65 340.93,190.40 334.44,194.45 327.94,190.82" fill="#3875fe" stroke="#3875fe"/><polygon points="340.93,190.40 347.44,194.18 340.96,198.10 334.44,194.45" fill="#3e6fff" stroke="#3e6fff"/><polygon points="347.44,194.18 353.99,197.92 347.50,201.72 340.96,198.10" fill="#4269fe" stroke="#4269fe"/><polygon points="353.99,197.92 360.55,201.56 354.06,205.25 347.50,201.72" fill="#4269fe" stroke="#4269fe"/><polygon points="360.55,201.56 367.14,204.87 360.65,208.47 354.06,205.25" fill="#4563fd" stroke="#4563fd"/><polygon points="203.10,141.30 209.11,142.37 202.81,146.51 196.80,145.30" fill="#3875fe" stroke="#3875fe"/><polygon points="209.11,142.37 215.15,143.61 208.85,147.86 202.81,146.51" fill="#327cfc" stroke="#327cfc"/><polygon points="215.15,143.61 221.21,145.02 214.92,149.36 208.85,147.86" fill="#327cfc" stroke="#327cfc"/><polygon points="221.21,145.02 227.30,146.58 221.00,151.01 214.92,149.36" fill="#2f81fa" stroke="#2f81fa"/><polygon points="227.30,146.58 233.41,148.30 227.11,152.80 221.00,151.01" fill="#2f81fa" stroke="#2f81fa"/><polygon points="233.41,148.30 239.54,150.18 233.25,154.73 227.11,152.80" fill="#2f81fa" stroke="#2f81fa"/><polygon points="239.54,150.18 245.70,152.22 239.41,156.80 233.25,154.73" fill="#2e87f7" stroke="#2e87f7"/><polygon points="245.70,152.22 251.88,154.40 245.59,159.01 239.41,156.80" fill="#2e87f7" stroke="#2e87f7"/><polygon points="251.88,154.40 258.09,156.74 251.80,161.35 245.59,159.01" fill="#2e87f7" stroke="#2e87f7"/><polygon points="258.09,156.74 264.32,159.22 258.03,163.82 251.80,161.35" fill="#2e87f7" stroke="#2e87f7"/><polygon points="264.32,159.22 270.58,161.84 264.28,166.43 258.03,163.82" fill="#2e87f7" stroke="#2e87f7"/><polygon points="270.58,161.84 276.85,164.61 270.56,169.15 264.28,166.43" fill="#2e87f7" stroke="#2e87f7"/><polygon points="276.85,164.61 283.16,167.50 276.86,171.99 270.56,169.15" fill="#2f81fa" stroke="#2f81fa"/><polygon points="283.16,167.50 289.48,170.52 283.19,174.95 276.86,171.99" fill="#2f81fa" stroke="#2f81fa"/><polygon points="289.48,170.52 295.83,173.66 289.54,178.02 283.19,174.95" fill="#2f81fa" stroke="#2f81fa"/><polygon points="295.83,173.66 302.21,176.91 295.91,181.18 289.54,178.02" fill="#327cfc" stroke="#327cfc"/><polygon points="302.21,176.91 308.60,180.26 302.31,184.44 295.91,181.18" fill="#327cfc" stroke="#327cfc"/><polygon points="308.60,180.26 315.03,183.71 308.74,187.78 302.31,184.44" fill="#3875fe" stroke="#3875fe"/><polygon points="315.03,183.71 321.47,187.23 315.18,191.19 308.74,187.78" fill="#3875fe" stroke="#3875fe"/><polygon points="321.47,187.23 327.94,190.82 321.65,194.66 315.18,191.19" fill="#3e6fff" stroke="#3e6fff"/><polygon points="327.94,190.82 334.44,194.45 328.15,198.17 321.65,194.66" fill="#4269fe" stroke="#4269fe"/><polygon points="334.44,194.45 340.96,198.10 334.67,201.69 328.15,198.17" fill="#4269fe" stroke="#4269fe"/><polygon points="340.96,198.10 347.50,201.72 341.21,205.19 334.67,201.69" fill="#4563fd" stroke="#4563fd"/><polygon points="347.50,201.72 354.06,205.25 347.78,208.61 341.21,205.19" fill="#465efb" stroke="#465efb"/><polygon points="354.06,205.25 360.65,208.47 354.37,211.75 347.78,208.61" fill="#465efb" stroke="#465efb"/><polygon points="196.80,145.30 202.81,146.51 196.02,150.26 190.00,149.00" fill="#3e6fff" stroke="#3e6fff"/><polygon points="202.81,146.51 208.85,147.86 202.05,151.66 196.02,150.26" fill="#3e6fff" stroke="#3e6fff"/><polygon points="208.85,147.86 214.92,149.36 208.12,153.20 202.05,151.66" fill="#3875fe" stroke="#3875fe"/><polygon points="214.92,149.36 221.00,151.01 214.20,154.88 208.12,153.20" fill="#3875fe" stroke="#3875fe"/><polygon points="221.00,151.01 227.11,152.80 220.32,156.69 214.20,154.88" fill="#327cfc" stroke="#327cfc"/><polygon points="227.11,152.80 233.25,154.73 226.45,158.64 220.32,156.69" fill="#327cfc" stroke="#327cfc"/><polygon points="233.25,154.73 239.41,156.80 232.61,160.72 226.45,158.64" fill="#327cfc" stroke="#327cfc"/><polygon points="239.41,156.80 245.59,159.01 238.79,162.94 232.61,160.72" fill="#327cfc" stroke="#327cfc"/><polygon points="245.59,159.01 251.80,161.35 245.00,165.28 238.79,162.94" fill="#327cfc" stroke="#327cfc"/><polygon points="251.80,161.35 258.03,163.82 251.23,167.74 245.00,165.28" fill="#327cfc" stroke="#327cfc"/><polygon points="258.03,163.82 264.28,166.43 257.49,170.33 251.23,167.74" fill="#327cfc" stroke="#327cfc"/><polygon points="264.28,166.43 270.56,169.15 263.77,173.03 257.49,170.33" fill="#327cfc" stroke="#327cfc"/><polygon points="270.56,169.15 276.86,171.99 270.07,175.84 263.77,173.03" fill="#327cfc" stroke="#327cfc"/><polygon points="276.86,171.99 283.19,174.95 276.40,178.77 270.07,175.84" fill="#3875fe" stroke="#3875fe"/><polygon points="283.19,174.95 289.54,178.02 282.75,181.80 276.40,178.77" fill="#3875fe" stroke="#3875fe"/><polygon points="289.54,178.02 295.91,181.18 289.12,184.92 282.75,181.80" fill="#3875fe" stroke="#3875fe"/><polygon points="295.91,181.18 302.31,184.44 295.52,188.13 289.12,184.92" fill="#3e6fff" stroke="#3e6fff"/><polygon points="302.31,184.44 308.74,187.78 301.94,191.42 295.52,188.13" fill="#3e6fff" stroke="#3e6fff"/><polygon points="308.74,187.78 315.18,191.19 308.39,194.78 301.94,191.42" fill="#4269fe" stroke="#4269fe"/><polygon points="315.18,191.19 321.65,194.66 314.86,198.19 308.39,194.78" fill="#4269fe" stroke="#4269fe"/><polygon points="321.65,194.66 328.15,198.17 321.36,201.64 314.86,198.19" fill="#4563fd" stroke="#4563fd"/><polygon points="328.15,198.17 334.67,201.69 327.88,205.11 321.36,201.64" fill="#465efb" stroke="#465efb"/><polygon points="334.67,201.69 341.21,205.19 334.42,208.55 327.88,205.11" fill="#465efb" stroke="#465efb"/><polygon points="341.21,205.19 347.78,208.61 340.99,211.91 334.42,208.55" fill="#4758f8" stroke="#4758f8"/><polygon points="347.78,208.61 354.37,211.75 347.58,215.02 340.99,211.91" fill="#4758f8" stroke="#4758f8"/><polygon points="190.00,149.00 196.02,150.26 189.52,153.71 183.50,152.40" fill="#4269fe" stroke="#4269fe"/><polygon points="196.02,150.26 202.05,151.66 195.56,155.15 189.52,153.71" fill="#4269fe" stroke="#4269fe"/><polygon points="202.05,151.66 208.12,153.20 201.62,156.72 195.56,155.15" fill="#3e6fff" stroke="#3e6fff"/><polygon points="208.12,153.20 214.20,154.88 207.71,158.42 201.62,156.72" fill="#3e6fff" stroke="#3e6fff"/><polygon points="214.20,154.88 220.32,156.69 213.82,160.25 207.71,158.42" fill="#3e6fff" stroke="#3e6fff"/><polygon points="220.32,156.69 226.45,158.64 219.95,162.21 213.82,160.25" fill="#3875fe" stroke="#3875fe"/><polygon points="226.45,158.64 232.61,160.72 226.11,164.30 219.95,162.21" fill="#3875fe" stroke="#3875fe"/><polygon points="232.61,160.72 238.79,162.94 232.30,166.51 226.11,164.30" fill="#3875fe" stroke="#3875fe"/><polygon points="238.79,162.94 245.00,165.28 238.50,168.83 232.30,166.51" fill="#3875fe" stroke="#3875fe"/><polygon points="245.00,165.28 251.23,167.74 244.74,171.28 238.50,168.83" fill="#3875fe" stroke="#3875fe"/><polygon points="251.23,167.74 257.49,170.33 250.99,173.84 244.74,171.28" fill="#3875fe" stroke="#3875fe"/><polygon points="257.49,170.33 263.77,173.03 257.27,176.52 250.99,173.84" fill="#3875fe" stroke="#3875fe"/><polygon points="263.77,173.03 270.07,175.84 263.58,179.30 257.27,176.52" fill="#3e6fff" stroke="#3e6fff"/><polygon points="270.07,175.84 276.40,178.77 269.90,182.18 263.58,179.30" fill="#3e6fff" stroke="#3e6fff"/><polygon points="276.40,178.77 282.75,181.80 276.25,185.16 269.90,182.18" fill="#3e6fff" stroke="#3e6fff"/><polygon points="282.75,181.80 289.12,184.92 282.63,188.23 276.25,185.16" fill="#4269fe" stroke="#4269fe"/><polygon points="289.12,184.92 295.52,188.13 289.03,191.39 282.63,188.23" fill="#4269fe" stroke="#4269fe"/><polygon points="295.52,188.13 301.94,191.42 295.45,194.62 289.03,191.39" fill="#4563fd" stroke="#4563fd"/><polygon points="301.94,191.42 308.39,194.78 301.90,197.92 295.45,194.62" fill="#4563fd" stroke="#4563fd"/><polygon points="308.39,194.78 314.86,198.19 308.37,201.27 301.90,197.92" fill="#465efb" stroke="#465efb"/><polygon points="314.86,198.19 321.36,201.64 314.87,204.65 308.37,201.27" fill="#465efb" stroke="#465efb"/><polygon points="321.36,201.64 327.88,205.11 321.39,208.05 314.87,204.65" fill="#4758f8" stroke="#4758f8"/><polygon points="327.88,205.11 334.42,208.55 327.93,211.43 321.39,208.05" fill="#4758f8" stroke="#4758f8"/><polygon points="334.42,208.55 340.99,211.91 334.50,214.73 327.93,211.43" fill="#4852f4" stroke="#4852f4"/><polygon points="340.99,211.91 347.58,215.02 341.09,217.80 334.50,214.73" fill="#4852f4" stroke="#4852f4"/><polygon points="183.50,152.40 189.52,153.71 183.02,157.05 177.00,155.70" fill="#4563fd" stroke="#4563fd"/><polygon points="189.52,153.71 195.56,155.15 189.06,158.53 183.02,157.05" fill="#4563fd" stroke="#4563fd"/><polygon points="195.56,155.15 201.62,156.72 195.12,160.14 189.06,158.53" fill="#4269fe" stroke="#4269fe"/><polygon points="201.62,156.72 207.71,158.42 201.21,161.86 195.12,160.14" fill="#4269fe" stroke="#4269fe"/><polygon points="207.71,158.42 213.82,160.25 207.32,163.71 201.21,161.86" fill="#4269fe" stroke="#4269fe"/><polygon points="213.82,160.25 219.95,162.21 213.46,165.68 207.32,163.71" fill="#4269fe" stroke="#4269fe"/><polygon points="219.95,162.21 226.11,164.30 219.62,167.77 213.46,165.68" fill="#3e6fff" stroke="#3e6fff"/><polygon points="226.11,164.30 232.30,166.51 225.80,169.97 219.62,167.77" fill="#3e6fff" stroke="#3e6fff"/><polygon points="232.30,166.51 238.50,168.83 232.01,172.29 225.80,169.97" fill="#3e6fff" stroke="#3e6fff"/><polygon points="238.50,168.83 244.74,171.28 238.24,174.72 232.01,172.29" fill="#3e6fff" stroke="#3e6fff"/><polygon points="244.74,171.28 250.99,173.84 244.50,177.26 238.24,174.72" fill="#3e6fff" stroke="#3e6fff"/><polygon points="250.99,173.84 257.27,176.52 250.78,179.90 244.50,177.26" fill="#4269fe" stroke="#4269fe"/><polygon points="257.27,176.52 263.58,179.30 257.08,182.65 250.78,179.90" fill="#4269fe" stroke="#4269fe"/><polygon points="263.58,179.30 269.90,182.18 263.41,185.49 257.08,182.65" fill="#4269fe" stroke="#4269fe"/><polygon points="269.90,182.18 276.25,185.16 269.76,188.42 263.41,185.49" fill="#4269fe" stroke="#4269fe"/><polygon points="276.25,185.16 282.63,188.23 276.14,191.44 269.76,188.42" fill="#4563fd" stroke="#4563fd"/><polygon points="282.63,188.23 289.03,191.39 282.54,194.54 276.14,191.44" fill="#4563fd" stroke="#4563fd"/><polygon points="289.03,191.39 295.45,194.62 288.96,197.71 282.54,194.54" fill="#4563fd" stroke="#4563fd"/><polygon points="295.45,194.62 301.90,197.92 295.41,200.95 288.96,197.71" fill="#465efb" stroke="#465efb"/><polygon points="301.90,197.92 308.37,201.27 301.88,204.23 295.41,200.95" fill="#465efb" stroke="#465efb"/><polygon points="308.37,201.27 314.87,204.65 308.38,207.55 301.88,204.23" fill="#4758f8" stroke="#4758f8"/><polygon points="314.87,204.65 321.39,208.05 314.90,210.88 308.38,207.55" fill="#4852f4" stroke="#4852f4"/><polygon points="321.39,208.05 327.93,211.43 321.44,214.20 314.90,210.88" fill="#4852f4" stroke="#4852f4"/><polygon points="327.93,211.43 334.50,214.73 328.01,217.44 321.44,214.20" fill="#484df0" stroke="#484df0"/><polygon points="334.50,214.73 341.09,217.80 334.61,220.47 328.01,217.44" fill="#484df0" stroke="#484df0"/><polygon points="177.00,155.70 183.02,157.05 176.52,160.30 170.50,158.90" fill="#465efb" stroke="#465efb"/><polygon points="183.02,157.05 189.06,158.53 182.56,161.81 176.52,160.30" fill="#465efb" stroke="#465efb"/><polygon points="189.06,158.53 195.12,160.14 188.62,163.44 182.56,161.81" fill="#465efb" stroke="#465efb"/><polygon points="195.12,160.14 201.21,161.86 194.71,165.18 188.62,163.44" fill="#4563fd" stroke="#4563fd"/><polygon points="201.21,161.86 207.32,163.71 200.82,167.05 194.71,165.18" fill="#4563fd" stroke="#4563fd"/><polygon points="207.32,163.71 213.46,165.68 206.96,169.02 200.82,167.05" fill="#4563fd" stroke="#4563fd"/><polygon points="213.46,165.68 219.62,167.77 213.12,171.10 206.96,169.02" fill="#4563fd" stroke="#4563fd"/><polygon points="219.62,167.77 225.80,169.97 219.30,173.30 213.12,171.10" fill="#4269fe" stroke="#4269fe"/><polygon points="225.80,169.97 232.01,172.29 225.51,175.60 219.30,173.30" fill="#4269fe" stroke="#4269fe"/><polygon points="232.01,172.29 238.24,174.72 231.75,178.01 225.51,175.60" fill="#4269fe" stroke="#4269fe"/><polygon points="238.24,174.72 244.50,177.26 238.00,180.51 231.75,178.01" fill="#4563fd" stroke="#4563fd"/><polygon points="244.50,177.26 250.78,179.90 244.28,183.12 238.00,180.51" fill="#4563fd" stroke="#4563fd"/><polygon points="250.78,179.90 257.08,182.65 250.59,185.83 244.28,183.12" fill="#4563fd" stroke="#4563fd"/><polygon points="257.08,182.65 263.41,185.49 256.92,188.62 250.59,185.83" fill="#4563fd" stroke="#4563fd"/><polygon points="263.41,185.49 269.76,188.42 263.27,191.50 256.92,188.62" fill="#4563fd" stroke="#4563fd"/><polygon points="269.76,188.42 276.14,191.44 269.65,194.47 263.27,191.50" fill="#465efb" stroke="#465efb"/><polygon points="276.14,191.44 282.54,194.54 276.05,197.50 269.65,194.47" fill="#465efb" stroke="#465efb"/><polygon points="282.54,194.54 288.96,197.71 282.47,200.61 276.05,197.50" fill="#465efb" stroke="#465efb"/><polygon points="288.96,197.71 295.41,200.95 288.92,203.78 282.47,200.61" fill="#4758f8" stroke="#4758f8"/><polygon points="295.41,200.95 301.88,204.23 295.39,206.99 288.92,203.78" fill="#4758f8" stroke="#4758f8"/><polygon points="301.88,204.23 308.38,207.55 301.89,210.24 295.39,206.99" fill="#4852f4" stroke="#4852f4"/><polygon points="308.38,207.55 314.90,210.88 308.41,213.50 301.89,210.24" fill="#4852f4" stroke="#4852f4"/><polygon points="314.90,210.88 321.44,214.20 314.96,216.74 308.41,213.50" fill="#484df0" stroke="#484df0"/><polygon points="321.44,214.20 328.01,217.44 321.53,219.93 314.96,216.74" fill="#484df0" stroke="#484df0"/><polygon points="328.01,217.44 334.61,220.47 328.12,222.91 321.53,219.93" fill="#4747eb" stroke="#4747eb"/><polygon points="170.50,158.90 176.52,160.30 170.22,163.35 164.20,161.90" fill="#4758f8" stroke="#4758f8"/><polygon points="176.52,160.30 182.56,161.81 176.26,164.91 170.22,163.35" fill="#4758f8" stroke="#4758f8"/><polygon points="182.56,161.81 188.62,163.44 182.32,166.57 176.26,164.91" fill="#4758f8" stroke="#4758f8"/><polygon points="188.62,163.44 194.71,165.18 188.41,168.35 182.32,166.57" fill="#465efb" stroke="#465efb"/><polygon points="194.71,165.18 200.82,167.05 194.53,170.23 188.41,168.35" fill="#465efb" stroke="#465efb"/><polygon points="200.82,167.05 206.96,169.02 200.66,172.22 194.53,170.23" fill="#465efb" stroke="#465efb"/><polygon points="206.96,169.02 213.12,171.10 206.82,174.32 200.66,172.22" fill="#465efb" stroke="#465efb"/><polygon points="213.12,171.10 219.30,173.30 213.01,176.51 206.82,174.32" fill="#4563fd" stroke="#4563fd"/><polygon points="219.30,173.30 225.51,175.60 219.22,178.81 213.01,176.51" fill="#4563fd" stroke="#4563fd"/><polygon points="225.51,175.60 231.75,178.01 225.45,181.21 219.22,178.81" fill="#4563fd" stroke="#4563fd"/><polygon points="231.75,178.01 238.00,180.51 231.71,183.70 225.45,181.21" fill="#465efb" stroke="#465efb"/><polygon points="238.00,180.51 244.28,183.12 237.99,186.28 231.71,183.70" fill="#465efb" stroke="#465efb"/><polygon points="244.28,183.12 250.59,185.83 244.29,188.96 237.99,186.28" fill="#465efb" stroke="#465efb"/><polygon points="250.59,185.83 256.92,188.62 250.62,191.72 244.29,188.96" fill="#465efb" stroke="#465efb"/><polygon points="256.92,188.62 263.27,191.50 256.98,194.56 250.62,191.72" fill="#465efb" stroke="#465efb"/><polygon points="263.27,191.50 269.65,194.47 263.35,197.48 256.98,194.56" fill="#4758f8" stroke="#4758f8"/><polygon points="269.65,194.47 276.05,197.50 269.76,200.47 263.35,197.48" fill="#4758f8" stroke="#4758f8"/><polygon points="276.05,197.50 282.47,200.61 276.18,203.52 269.76,200.47" fill="#4758f8" stroke="#4758f8"/><polygon points="282.47,200.61 288.92,203.78 282.63,206.63 276.18,203.52" fill="#4852f4" stroke="#4852f4"/><polygon points="288.92,203.78 295.39,206.99 289.10,209.79 282.63,206.63" fill="#4852f4" stroke="#4852f4"/><polygon points="295.39,206.99 301.89,210.24 295.60,212.97 289.10,209.79" fill="#484df0" stroke="#484df0"/><polygon points="301.89,210.24 308.41,213.50 302.12,216.17 295.60,212.97" fill="#484df0" stroke="#484df0"/><polygon points="308.41,213.50 314.96,216.74 308.67,219.36 302.12,216.17" fill="#484df0" stroke="#484df0"/><polygon points="314.96,216.74 321.53,219.93 315.24,222.50 308.67,219.36" fill="#4747eb" stroke="#4747eb"/><polygon points="321.53,219.93 328.12,222.91 321.83,225.44 315.24,222.50" fill="#4747eb" stroke="#4747eb"/><polygon points="164.20,161.90 170.22,163.35 164.12,166.11 158.10,164.60" fill="#4852f4" stroke="#4852f4"/><polygon points="170.22,163.35 176.26,164.91 170.16,167.72 164.12,166.11" fill="#4852f4" stroke="#4852f4"/><polygon points="176.26,164.91 182.32,166.57 176.22,169.44 170.16,167.72" fill="#4758f8" stroke="#4758f8"/><polygon points="182.32,166.57 188.41,168.35 182.31,171.26 176.22,169.44" fill="#4758f8" stroke="#4758f8"/><polygon points="188.41,168.35 194.53,170.23 188.43,173.18 182.31,171.26" fill="#4758f8" stroke="#4758f8"/><polygon points="194.53,170.23 200.66,172.22 194.56,175.19 188.43,173.18" fill="#4758f8" stroke="#4758f8"/><polygon points="200.66,172.22 206.82,174.32 200.73,177.31 194.56,175.19" fill="#4758f8" stroke="#4758f8"/><polygon points="206.82,174.32 213.01,176.51 206.91,179.52 200.73,177.31" fill="#465efb" stroke="#465efb"/><polygon points="213.01,176.51 219.22,178.81 213.12,181.83 206.91,179.52" fill="#465efb" stroke="#465efb"/><polygon points="219.22,178.81 225.45,181.21 219.36,184.23 213.12,181.83" fill="#465efb" stroke="#465efb"/><polygon points="225.45,181.21 231.71,183.70 225.61,186.71 219.36,184.23" fill="#465efb" stroke="#465efb"/><polygon points="231.71,183.70 237.99,186.28 231.89,189.29 225.61,186.71" fill="#4758f8" stroke="#4758f8"/><polygon points="237.99,186.28 244.29,188.96 238.20,191.95 231.89,189.29" fill="#4758f8" stroke="#4758f8"/><polygon points="244.29,188.96 250.62,191.72 244.53,194.69 238.20,191.95" fill="#4758f8" stroke="#4758f8"/><polygon points="250.62,191.72 256.98,194.56 250.88,197.51 244.53,194.69" fill="#4758f8" stroke="#4758f8"/><polygon points="256.98,194.56 263.35,197.48 257.26,200.39 250.88,197.51" fill="#4758f8" stroke="#4758f8"/><polygon points="263.35,197.48 269.76,200.47 263.66,203.35 257.26,200.39" fill="#4852f4" stroke="#4852f4"/><polygon points="269.76,200.47 276.18,203.52 270.09,206.36 263.66,203.35" fill="#4852f4" stroke="#4852f4"/><polygon points="276.18,203.52 282.63,206.63 276.54,209.43 270.09,206.36" fill="#4852f4" stroke="#4852f4"/><polygon points="282.63,206.63 289.10,209.79 283.01,212.54 276.54,209.43" fill="#484df0" stroke="#484df0"/><polygon points="289.10,209.79 295.60,212.97 289.51,215.68 283.01,212.54" fill="#484df0" stroke="#484df0"/><polygon points="295.60,212.97 302.12,216.17 296.03,218.83 289.51,215.68" fill="#4747eb" stroke="#4747eb"/><polygon points="302.12,216.17 308.67,219.36 302.58,221.97 296.03,218.83" fill="#4747eb" stroke="#4747eb"/><polygon points="308.67,219.36 315.24,222.50 309.15,225.06 302.58,221.97" fill="#4741e5" stroke="#4741e5"/><polygon points="315.24,222.50 321.83,225.44 315.74,227.97 309.15,225.06" fill="#4741e5" stroke="#4741e5"/><polygon points="158.10,164.60 164.12,166.11 158.02,168.77 152.00,167.20" fill="#484df0" stroke="#484df0"/><polygon points="164.12,166.11 170.16,167.72 164.06,170.44 158.02,168.77" fill="#484df0" stroke="#484df0"/><polygon points="170.16,167.72 176.22,169.44 170.13,172.20 164.06,170.44" fill="#4852f4" stroke="#4852f4"/><polygon points="176.22,169.44 182.31,171.26 176.22,174.06 170.13,172.20" fill="#4852f4" stroke="#4852f4"/><polygon points="182.31,171.26 188.43,173.18 182.33,176.01 176.22,174.06" fill="#4852f4" stroke="#4852f4"/><polygon points="188.43,173.18 194.56,175.19 188.47,178.05 182.33,176.01" fill="#4852f4" stroke="#4852f4"/><polygon points="194.56,175.19 200.73,177.31 194.63,180.18 188.47,178.05" fill="#4758f8" stroke="#4758f8"/><polygon points="200.73,177.31 206.91,179.52 200.82,182.41 194.63,180.18" fill="#4758f8" stroke="#4758f8"/><polygon points="206.91,179.52 213.12,181.83 207.03,184.72 200.82,182.41" fill="#4758f8" stroke="#4758f8"/><polygon points="213.12,181.83 219.36,184.23 213.26,187.12 207.03,184.72" fill="#4758f8" stroke="#4758f8"/><polygon points="219.36,184.23 225.61,186.71 219.52,189.60 213.26,187.12" fill="#4758f8" stroke="#4758f8"/><polygon points="225.61,186.71 231.89,189.29 225.80,192.16 219.52,189.60" fill="#4758f8" stroke="#4758f8"/><polygon points="231.89,189.29 238.20,191.95 232.11,194.80 225.80,192.16" fill="#4852f4" stroke="#4852f4"/><polygon points="238.20,191.95 244.53,194.69 238.44,197.52 232.11,194.80" fill="#4852f4" stroke="#4852f4"/><polygon points="244.53,194.69 250.88,197.51 244.79,200.31 238.44,197.52" fill="#4852f4" stroke="#4852f4"/><polygon points="250.88,197.51 257.26,200.39 251.17,203.16 244.79,200.31" fill="#4852f4" stroke="#4852f4"/><polygon points="257.26,200.39 263.66,203.35 257.57,206.08 251.17,203.16" fill="#484df0" stroke="#484df0"/><polygon points="263.66,203.35 270.09,206.36 264.00,209.05 257.57,206.08" fill="#484df0" stroke="#484df0"/><polygon points="270.09,206.36 276.54,209.43 270.45,212.07 264.00,209.05" fill="#484df0" stroke="#484df0"/><polygon points="276.54,209.43 283.01,212.54 276.92,215.13 270.45,212.07" fill="#4747eb" stroke="#4747eb"/><polygon points="283.01,212.54 289.51,215.68 283.42,218.22 276.92,215.13" fill="#4747eb" stroke="#4747eb"/><polygon points="289.51,215.68 296.03,218.83 289.94,221.32 283.42,218.22" fill="#4747eb" stroke="#4747eb"/><polygon points="296.03,218.83 302.58,221.97 296.49,224.41 289.94,221.32" fill="#4741e5" stroke="#4741e5"/><polygon points="302.58,221.97 309.15,225.06 303.06,227.45 296.49,224.41" fill="#4741e5" stroke="#4741e5"/><polygon points="309.15,225.06 315.74,227.97 309.65,230.32 303.06,227.45" fill="#463cde" stroke="#463cde"/><polygon points="152.00,167.20 158.02,168.77 151.72,171.43 145.70,169.80" fill="#4747eb" stroke="#4747eb"/><polygon points="158.02,168.77 164.06,170.44 157.76,173.15 151.72,171.43" fill="#484df0" stroke="#484df0"/><polygon points="164.06,170.44 170.13,172.20 163.83,174.95 157.76,173.15" fill="#484df0" stroke="#484df0"/><polygon points="170.13,172.20 176.22,174.06 169.92,176.85 163.83,174.95" fill="#484df0" stroke="#484df0"/><polygon points="176.22,174.06 182.33,176.01 176.03,178.83 169.92,176.85" fill="#484df0" stroke="#484df0"/><polygon points="182.33,176.01 188.47,178.05 182.17,180.89 176.03,178.83" fill="#4852f4" stroke="#4852f4"/><polygon points="188.47,178.05 194.63,180.18 188.33,183.05 182.17,180.89" fill="#4852f4" stroke="#4852f4"/><polygon points="194.63,180.18 200.82,182.41 194.52,185.28 188.33,183.05" fill="#4852f4" stroke="#4852f4"/><polygon points="200.82,182.41 207.03,184.72 200.73,187.60 194.52,185.28" fill="#4852f4" stroke="#4852f4"/><polygon points="207.03,184.72 213.26,187.12 206.96,189.99 200.73,187.60" fill="#4852f4" stroke="#4852f4"/><polygon points="213.26,187.12 219.52,189.60 213.22,192.46 206.96,189.99" fill="#4852f4" stroke="#4852f4"/><polygon points="219.52,189.60 225.80,192.16 219.51,195.01 213.22,192.46" fill="#4852f4" stroke="#4852f4"/><polygon points="225.80,192.16 232.11,194.80 225.81,197.63 219.51,195.01" fill="#4852f4" stroke="#4852f4"/><polygon points="232.11,194.80 238.44,197.52 232.14,200.32 225.81,197.63" fill="#484df0" stroke="#484df0"/><polygon points="238.44,197.52 244.79,200.31 238.50,203.08 232.14,200.32" fill="#484df0" stroke="#484df0"/><polygon points="244.79,200.31 251.17,203.16 244.88,205.90 238.50,203.08" fill="#484df0" stroke="#484df0"/><polygon points="251.17,203.16 257.57,206.08 251.28,208.77 244.88,205.90" fill="#484df0" stroke="#484df0"/><polygon points="257.57,206.08 264.00,209.05 257.71,211.70 251.28,208.77" fill="#4747eb" stroke="#4747eb"/><polygon points="264.00,209.05 270.45,212.07 264.16,214.67 257.71,211.70" fill="#4747eb" stroke="#4747eb"/><polygon points="270.45,212.07 276.92,215.13 270.63,217.68 264.16,214.67" fill="#4747eb" stroke="#4747eb"/><polygon points="276.92,215.13 283.42,218.22 277.13,220.72 270.63,217.68" fill="#4741e5" stroke="#4741e5"/><polygon points="283.42,218.22 289.94,221.32 283.65,223.76 277.13,220.72" fill="#4741e5" stroke="#4741e5"/><polygon points="289.94,221.32 296.49,224.41 290.20,226.80 283.65,223.76" fill="#4741e5" stroke="#4741e5"/><polygon points="296.49,224.41 303.06,227.45 296.77,229.79 290.20,226.80" fill="#463cde" stroke="#463cde"/><polygon points="303.06,227.45 309.65,230.32 303.37,232.63 296.77,229.79" fill="#463cde" stroke="#463cde"/><polygon points="145.70,169.80 151.72,171.43 145.42,173.88 139.40,172.20" fill="#4747eb" stroke="#4747eb"/><polygon points="151.72,171.43 157.76,173.15 151.46,175.65 145.42,173.88" fill="#4747eb" stroke="#4747eb"/><polygon points="157.76,173.15 163.83,174.95 157.53,177.50 151.46,175.65" fill="#4747eb" stroke="#4747eb"/><polygon points="163.83,174.95 169.92,176.85 163.62,179.43 157.53,177.50" fill="#484df0" stroke="#484df0"/><polygon points="169.92,176.85 176.03,178.83 169.73,181.43 163.62,179.43" fill="#484df0" stroke="#484df0"/><polygon points="176.03,178.83 182.17,180.89 175.87,183.52 169.73,181.43" fill="#484df0" stroke="#484df0"/><polygon points="182.17,180.89 188.33,183.05 182.04,185.69 175.87,183.52" fill="#484df0" stroke="#484df0"/><polygon points="188.33,183.05 194.52,185.28 188.22,187.93 182.04,185.69" fill="#484df0" stroke="#484df0"/><polygon points="194.52,185.28 200.73,187.60 194.43,190.24 188.22,187.93" fill="#484df0" stroke="#484df0"/><polygon points="200.73,187.60 206.96,189.99 200.67,192.63 194.43,190.24" fill="#484df0" stroke="#484df0"/><polygon points="206.96,189.99 213.22,192.46 206.93,195.09 200.67,192.63" fill="#484df0" stroke="#484df0"/><polygon points="213.22,192.46 219.51,195.01 213.21,197.62 206.93,195.09" fill="#484df0" stroke="#484df0"/><polygon points="219.51,195.01 225.81,197.63 219.52,200.22 213.21,197.62" fill="#484df0" stroke="#484df0"/><polygon points="225.81,197.63 232.14,200.32 225.85,202.88 219.52,200.22" fill="#484df0" stroke="#484df0"/><polygon points="232.14,200.32 238.50,203.08 232.21,205.60 225.85,202.88" fill="#4747eb" stroke="#4747eb"/><polygon points="238.50,203.08 244.88,205.90 238.58,208.38 232.21,205.60" fill="#4747eb" stroke="#4747eb"/><polygon points="244.88,205.90 251.28,208.77 244.99,211.21 238.58,208.38" fill="#4747eb" stroke="#4747eb"/><polygon points="251.28,208.77 257.71,211.70 251.42,214.09 244.99,211.21" fill="#4747eb" stroke="#4747eb"/><polygon points="257.71,211.70 264.16,214.67 257.87,217.01 251.42,214.09" fill="#4741e5" stroke="#4741e5"/><polygon points="264.16,214.67 270.63,217.68 264.34,219.96 257.87,217.01" fill="#4741e5" stroke="#4741e5"/><polygon points="270.63,217.68 277.13,220.72 270.84,222.94 264.34,219.96" fill="#4741e5" stroke="#4741e5"/><polygon points="277.13,220.72 283.65,223.76 277.36,225.94 270.84,222.94" fill="#463cde" stroke="#463cde"/><polygon points="283.65,223.76 290.20,226.80 283.91,228.92 277.36,225.94" fill="#463cde" stroke="#463cde"/><polygon points="290.20,226.80 296.77,229.79 290.48,231.86 283.91,228.92" fill="#463cde" stroke="#463cde"/><polygon points="296.77,229.79 303.37,232.63 297.08,234.66 290.48,231.86" fill="#4537d5" stroke="#4537d5"/><polygon points="139.40,172.20 145.42,173.88 139.32,176.24 133.30,174.50" fill="#4741e5" stroke="#4741e5"/><polygon points="145.42,173.88 151.46,175.65 145.36,178.05 139.32,176.24" fill="#4741e5" stroke="#4741e5"/><polygon points="151.46,175.65 157.53,177.50 151.43,179.94 145.36,178.05" fill="#4747eb" stroke="#4747eb"/><polygon points="157.53,177.50 163.62,179.43 157.52,181.90 151.43,179.94" fill="#4747eb" stroke="#4747eb"/><polygon points="163.62,179.43 169.73,181.43 163.64,183.93 157.52,181.90" fill="#4747eb" stroke="#4747eb"/><polygon points="169.73,181.43 175.87,183.52 169.78,186.04 163.64,183.93" fill="#4747eb" stroke="#4747eb"/><polygon points="175.87,183.52 182.04,185.69 175.94,188.22 169.78,186.04" fill="#4747eb" stroke="#4747eb"/><polygon points="182.04,185.69 188.22,187.93 182.13,190.46 175.94,188.22" fill="#4747eb" stroke="#4747eb"/><polygon points="188.22,187.93 194.43,190.24 188.34,192.78 182.13,190.46" fill="#4747eb" stroke="#4747eb"/><polygon points="194.43,190.24 200.67,192.63 194.57,195.16 188.34,192.78" fill="#4747eb" stroke="#4747eb"/><polygon points="200.67,192.63 206.93,195.09 200.83,197.60 194.57,195.16" fill="#4747eb" stroke="#4747eb"/><polygon points="206.93,195.09 213.21,197.62 207.12,200.11 200.83,197.60" fill="#4747eb" stroke="#4747eb"/><polygon points="213.21,197.62 219.52,200.22 213.42,202.68 207.12,200.11" fill="#4747eb" stroke="#4747eb"/><polygon points="219.52,200.22 225.85,202.88 219.76,205.31 213.42,202.68" fill="#4747eb" stroke="#4747eb"/><polygon points="225.85,202.88 232.21,205.60 226.11,208.00 219.76,205.31" fill="#4747eb" stroke="#4747eb"/><polygon points="232.21,205.60 238.58,208.38 232.49,210.73 226.11,208.00" fill="#4747eb" stroke="#4747eb"/><polygon points="238.58,208.38 244.99,211.21 238.90,213.52 232.49,210.73" fill="#4741e5" stroke="#4741e5"/><polygon points="244.99,211.21 251.42,214.09 245.32,216.35 238.90,213.52" fill="#4741e5" stroke="#4741e5"/><polygon points="251.42,214.09 257.87,217.01 251.78,219.21 245.32,216.35" fill="#4741e5" stroke="#4741e5"/><polygon points="257.87,217.01 264.34,219.96 258.25,222.11 251.78,219.21" fill="#4741e5" stroke="#4741e5"/><polygon points="264.34,219.96 270.84,222.94 264.75,225.04 258.25,222.11" fill="#463cde" stroke="#463cde"/><polygon points="270.84,222.94 277.36,225.94 271.27,227.97 264.75,225.04" fill="#463cde" stroke="#463cde"/><polygon points="277.36,225.94 283.91,228.92 277.82,230.90 271.27,227.97" fill="#463cde" stroke="#463cde"/><polygon points="283.91,228.92 290.48,231.86 284.39,233.79 277.82,230.90" fill="#4537d5" stroke="#4537d5"/><polygon points="290.48,231.86 297.08,234.66 290.99,236.55 284.39,233.79" fill="#4537d5" stroke="#4537d5"/><polygon points="133.30,174.50 139.32,176.24 133.12,178.68 127.10,176.90" fill="#4741e5" stroke="#4741e5"/><polygon points="139.32,176.24 145.36,178.05 139.16,180.54 133.12,178.68" fill="#4741e5" stroke="#4741e5"/><polygon points="145.36,178.05 151.43,179.94 145.23,182.45 139.16,180.54" fill="#4741e5" stroke="#4741e5"/><polygon points="151.43,179.94 157.52,181.90 151.32,184.44 145.23,182.45" fill="#4741e5" stroke="#4741e5"/><polygon points="157.52,181.90 163.64,183.93 157.44,186.49 151.32,184.44" fill="#4741e5" stroke="#4741e5"/><polygon points="163.64,183.93 169.78,186.04 163.58,188.60 157.44,186.49" fill="#4747eb" stroke="#4747eb"/><polygon points="169.78,186.04 175.94,188.22 169.74,190.78 163.58,188.60" fill="#4747eb" stroke="#4747eb"/><polygon points="175.94,188.22 182.13,190.46 175.93,193.02 169.74,190.78" fill="#4747eb" stroke="#4747eb"/><polygon points="182.13,190.46 188.34,192.78 182.14,195.33 175.93,193.02" fill="#4747eb" stroke="#4747eb"/><polygon points="188.34,192.78 194.57,195.16 188.38,197.69 182.14,195.33" fill="#4747eb" stroke="#4747eb"/><polygon points="194.57,195.16 200.83,197.60 194.64,200.11 188.38,197.69" fill="#4747eb" stroke="#4747eb"/><polygon points="200.83,197.60 207.12,200.11 200.92,202.59 194.64,200.11" fill="#4747eb" stroke="#4747eb"/><polygon points="207.12,200.11 213.42,202.68 207.23,205.12 200.92,202.59" fill="#4741e5" stroke="#4741e5"/><polygon points="213.42,202.68 219.76,205.31 213.56,207.71 207.23,205.12" fill="#4741e5" stroke="#4741e5"/><polygon points="219.76,205.31 226.11,208.00 219.92,210.35 213.56,207.71" fill="#4741e5" stroke="#4741e5"/><polygon points="226.11,208.00 232.49,210.73 226.30,213.03 219.92,210.35" fill="#4741e5" stroke="#4741e5"/><polygon points="232.49,210.73 238.90,213.52 232.70,215.76 226.30,213.03" fill="#4741e5" stroke="#4741e5"/><polygon points="238.90,213.52 245.32,216.35 239.13,218.53 232.70,215.76" fill="#4741e5" stroke="#4741e5"/><polygon points="245.32,216.35 251.78,219.21 245.58,221.33 239.13,218.53" fill="#463cde" stroke="#463cde"/><polygon points="251.78,219.21 258.25,222.11 252.06,224.17 245.58,221.33" fill="#463cde" stroke="#463cde"/><polygon points="258.25,222.11 264.75,225.04 258.56,227.02 252.06,224.17" fill="#463cde" stroke="#463cde"/><polygon points="264.75,225.04 271.27,227.97 265.09,229.89 258.56,227.02" fill="#4537d5" stroke="#4537d5"/><polygon points="271.27,227.97 277.82,230.90 271.63,232.75 265.09,229.89" fill="#4537d5" stroke="#4537d5"/><polygon points="277.82,230.90 284.39,233.79 278.21,235.59 271.63,232.75" fill="#4537d5" stroke="#4537d5"/><polygon points="284.39,233.79 290.99,236.55 284.80,238.31 278.21,235.59" fill="#4537d5" stroke="#4537d5"/><polygon points="127.10,176.90 133.12,178.68 126.91,180.79 120.89,178.95" fill="#463cde" stroke="#463cde"/><polygon points="133.12,178.68 139.16,180.54 132.95,182.70 126.91,180.79" fill="#463cde" stroke="#463cde"/><polygon points="139.16,180.54 145.23,182.45 139.02,184.66 132.95,182.70" fill="#4741e5" stroke="#4741e5"/><polygon points="145.23,182.45 151.32,184.44 145.11,186.68 139.02,184.66" fill="#4741e5" stroke="#4741e5"/><polygon points="151.32,184.44 157.44,186.49 151.23,188.76 145.11,186.68" fill="#4741e5" stroke="#4741e5"/><polygon points="157.44,186.49 163.58,188.60 157.37,190.90 151.23,188.76" fill="#4741e5" stroke="#4741e5"/><polygon points="163.58,188.60 169.74,190.78 163.53,193.10 157.37,190.90" fill="#4741e5" stroke="#4741e5"/><polygon points="169.74,190.78 175.93,193.02 169.72,195.35 163.53,193.10" fill="#4741e5" stroke="#4741e5"/><polygon points="175.93,193.02 182.14,195.33 175.93,197.66 169.72,195.35" fill="#4741e5" stroke="#4741e5"/><polygon points="182.14,195.33 188.38,197.69 182.17,200.02 175.93,197.66" fill="#4741e5" stroke="#4741e5"/><polygon points="188.38,197.69 194.64,200.11 188.43,202.43 182.17,200.02" fill="#4741e5" stroke="#4741e5"/><polygon points="194.64,200.11 200.92,202.59 194.72,204.90 188.43,202.43" fill="#4741e5" stroke="#4741e5"/><polygon points="200.92,202.59 207.23,205.12 201.02,207.41 194.72,204.90" fill="#4741e5" stroke="#4741e5"/><polygon points="207.23,205.12 213.56,207.71 207.36,209.97 201.02,207.41" fill="#4741e5" stroke="#4741e5"/><polygon points="213.56,207.71 219.92,210.35 213.71,212.58 207.36,209.97" fill="#4741e5" stroke="#4741e5"/><polygon points="219.92,210.35 226.30,213.03 220.09,215.23 213.71,212.58" fill="#463cde" stroke="#463cde"/><polygon points="226.30,213.03 232.70,215.76 226.50,217.92 220.09,215.23" fill="#463cde" stroke="#463cde"/><polygon points="232.70,215.76 239.13,218.53 232.93,220.64 226.50,217.92" fill="#463cde" stroke="#463cde"/><polygon points="239.13,218.53 245.58,221.33 239.38,223.40 232.93,220.64" fill="#463cde" stroke="#463cde"/><polygon points="245.58,221.33 252.06,224.17 245.86,226.19 239.38,223.40" fill="#463cde" stroke="#463cde"/><polygon points="252.06,224.17 258.56,227.02 252.36,228.99 245.86,226.19" fill="#4537d5" stroke="#4537d5"/><polygon points="258.56,227.02 265.09,229.89 258.88,231.80 252.36,228.99" fill="#4537d5" stroke="#4537d5"/><polygon points="265.09,229.89 271.63,232.75 265.43,234.61 258.88,231.80" fill="#4537d5" stroke="#4537d5"/><polygon points="271.63,232.75 278.21,235.59 272.01,237.40 265.43,234.61" fill="#4537d5" stroke="#4537d5"/><polygon points="278.21,235.59 284.80,238.31 278.60,240.09 272.01,237.40" fill="#4332cb" stroke="#4332cb"/><polygon points="120.89,178.95 126.91,180.79 120.70,182.90 114.68,181.00" fill="#463cde" stroke="#463cde"/><polygon points="126.91,180.79 132.95,182.70 126.74,184.86 120.70,182.90" fill="#463cde" stroke="#463cde"/><polygon points="132.95,182.70 139.02,184.66 132.81,186.87 126.74,184.86" fill="#463cde" stroke="#463cde"/><polygon points="139.02,184.66 145.11,186.68 138.90,188.94 132.81,186.87" fill="#463cde" stroke="#463cde"/><polygon points="145.11,186.68 151.23,188.76 145.02,191.05 138.90,188.94" fill="#463cde" stroke="#463cde"/><polygon points="151.23,188.76 157.37,190.90 151.16,193.22 145.02,191.05" fill="#463cde" stroke="#463cde"/><polygon points="157.37,190.90 163.53,193.10 157.32,195.43 151.16,193.22" fill="#4741e5" stroke="#4741e5"/><polygon points="163.53,193.10 169.72,195.35 163.51,197.70 157.32,195.43" fill="#4741e5" stroke="#4741e5"/><polygon points="169.72,195.35 175.93,197.66 169.73,200.01 163.51,197.70" fill="#4741e5" stroke="#4741e5"/><polygon points="175.93,197.66 182.17,200.02 175.96,202.37 169.73,200.01" fill="#4741e5" stroke="#4741e5"/><polygon points="182.17,200.02 188.43,202.43 182.22,204.78 175.96,202.37" fill="#4741e5" stroke="#4741e5"/><polygon points="188.43,202.43 194.72,204.90 188.51,207.23 182.22,204.78" fill="#463cde" stroke="#463cde"/><polygon points="194.72,204.90 201.02,207.41 194.82,209.73 188.51,207.23" fill="#463cde" stroke="#463cde"/><polygon points="201.02,207.41 207.36,209.97 201.15,212.27 194.82,209.73" fill="#463cde" stroke="#463cde"/><polygon points="207.36,209.97 213.71,212.58 207.51,214.85 201.15,212.27" fill="#463cde" stroke="#463cde"/><polygon points="213.71,212.58 220.09,215.23 213.89,217.47 207.51,214.85" fill="#463cde" stroke="#463cde"/><polygon points="220.09,215.23 226.50,217.92 220.30,220.12 213.89,217.47" fill="#463cde" stroke="#463cde"/><polygon points="226.50,217.92 232.93,220.64 226.72,222.80 220.30,220.12" fill="#463cde" stroke="#463cde"/><polygon points="232.93,220.64 239.38,223.40 233.18,225.52 226.72,222.80" fill="#4537d5" stroke="#4537d5"/><polygon points="239.38,223.40 245.86,226.19 239.65,228.25 233.18,225.52" fill="#4537d5" stroke="#4537d5"/><polygon points="245.86,226.19 252.36,228.99 246.16,231.01 239.65,228.25" fill="#4537d5" stroke="#4537d5"/><polygon points="252.36,228.99 258.88,231.80 252.68,233.77 246.16,231.01" fill="#4537d5" stroke="#4537d5"/><polygon points="258.88,231.80 265.43,234.61 259.23,236.53 252.68,233.77" fill="#4537d5" stroke="#4537d5"/><polygon points="265.43,234.61 272.01,237.40 265.80,239.27 259.23,236.53" fill="#4332cb" stroke="#4332cb"/><polygon points="272.01,237.40 278.60,240.09 272.40,241.93 265.80,239.27" fill="#4332cb" stroke="#4332cb"/><polygon points="114.68,181.00 120.70,182.90 114.48,185.02 108.46,183.05" fill="#4537d5" stroke="#4537d5"/><polygon points="120.70,182.90 126.74,184.86 120.53,187.03 114.48,185.02" fill="#463cde" stroke="#463cde"/><polygon points="126.74,184.86 132.81,186.87 126.60,189.09 120.53,187.03" fill="#463cde" stroke="#463cde"/><polygon points="132.81,186.87 138.90,188.94 132.69,191.20 126.60,189.09" fill="#463cde" stroke="#463cde"/><polygon points="138.90,188.94 145.02,191.05 138.81,193.35 132.69,191.20" fill="#463cde" stroke="#463cde"/><polygon points="145.02,191.05 151.16,193.22 144.95,195.54 138.81,193.35" fill="#463cde" stroke="#463cde"/><polygon points="151.16,193.22 157.32,195.43 151.12,197.78 144.95,195.54" fill="#463cde" stroke="#463cde"/><polygon points="157.32,195.43 163.51,197.70 157.30,200.06 151.12,197.78" fill="#463cde" stroke="#463cde"/><polygon points="163.51,197.70 169.73,200.01 163.52,202.38 157.30,200.06" fill="#463cde" stroke="#463cde"/><polygon points="169.73,200.01 175.96,202.37 169.76,204.75 163.52,202.38" fill="#463cde" stroke="#463cde"/><polygon points="175.96,202.37 182.22,204.78 176.02,207.15 169.76,204.75" fill="#463cde" stroke="#463cde"/><polygon points="182.22,204.78 188.51,207.23 182.30,209.60 176.02,207.15" fill="#463cde" stroke="#463cde"/><polygon points="188.51,207.23 194.82,209.73 188.61,212.08 182.30,209.60" fill="#463cde" stroke="#463cde"/><polygon points="194.82,209.73 201.15,212.27 194.95,214.60 188.61,212.08" fill="#463cde" stroke="#463cde"/><polygon points="201.15,212.27 207.51,214.85 201.30,217.15 194.95,214.60" fill="#463cde" stroke="#463cde"/><polygon points="207.51,214.85 213.89,217.47 207.69,219.74 201.30,217.15" fill="#463cde" stroke="#463cde"/><polygon points="213.89,217.47 220.30,220.12 214.09,222.35 207.69,219.74" fill="#4537d5" stroke="#4537d5"/><polygon points="220.30,220.12 226.72,222.80 220.52,225.00 214.09,222.35" fill="#4537d5" stroke="#4537d5"/><polygon points="226.72,222.80 233.18,225.52 226.97,227.67 220.52,225.00" fill="#4537d5" stroke="#4537d5"/><polygon points="233.18,225.52 239.65,228.25 233.45,230.36 226.97,227.67" fill="#4537d5" stroke="#4537d5"/><polygon points="239.65,228.25 246.16,231.01 239.95,233.07 233.45,230.36" fill="#4537d5" stroke="#4537d5"/><polygon points="246.16,231.01 252.68,233.77 246.48,235.78 239.95,233.07" fill="#4332cb" stroke="#4332cb"/><polygon points="252.68,233.77 259.23,236.53 253.03,238.50 246.48,235.78" fill="#4332cb" stroke="#4332cb"/><polygon points="259.23,236.53 265.80,239.27 259.60,241.19 253.03,238.50" fill="#4332cb" stroke="#4332cb"/><polygon points="265.80,239.27 272.40,241.93 266.20,243.82 259.60,241.19" fill="#4332cb" stroke="#4332cb"/><polygon points="108.46,183.05 114.48,185.02 108.27,187.14 102.25,185.10" fill="#4537d5" stroke="#4537d5"/><polygon points="114.48,185.02 120.53,187.03 114.32,189.21 108.27,187.14" fill="#4537d5" stroke="#4537d5"/><polygon points="120.53,187.03 126.60,189.09 120.39,191.33 114.32,189.21" fill="#4537d5" stroke="#4537d5"/><polygon points="126.60,189.09 132.69,191.20 126.48,193.48 120.39,191.33" fill="#4537d5" stroke="#4537d5"/><polygon points="132.69,191.20 138.81,193.35 132.60,195.67 126.48,193.48" fill="#4537d5" stroke="#4537d5"/><polygon points="138.81,193.35 144.95,195.54 138.74,197.90 132.60,195.67" fill="#4537d5" stroke="#4537d5"/><polygon points="144.95,195.54 151.12,197.78 144.91,200.16 138.74,197.90" fill="#463cde" stroke="#463cde"/><polygon points="151.12,197.78 157.30,200.06 151.10,202.47 144.91,200.16" fill="#463cde" stroke="#463cde"/><polygon points="157.30,200.06 163.52,202.38 157.31,204.80 151.10,202.47" fill="#463cde" stroke="#463cde"/><polygon points="163.52,202.38 169.76,204.75 163.55,207.18 157.31,204.80" fill="#463cde" stroke="#463cde"/><polygon points="169.76,204.75 176.02,207.15 169.81,209.59 163.55,207.18" fill="#4537d5" stroke="#4537d5"/><polygon points="176.02,207.15 182.30,209.60 176.10,212.03 169.81,209.59" fill="#4537d5" stroke="#4537d5"/><polygon points="182.30,209.60 188.61,212.08 182.41,214.50 176.10,212.03" fill="#4537d5" stroke="#4537d5"/><polygon points="188.61,212.08 194.95,214.60 188.74,217.01 182.41,214.50" fill="#4537d5" stroke="#4537d5"/><polygon points="194.95,214.60 201.30,217.15 195.10,219.54 188.74,217.01" fill="#4537d5" stroke="#4537d5"/><polygon points="201.30,217.15 207.69,219.74 201.48,222.11 195.10,219.54" fill="#4537d5" stroke="#4537d5"/><polygon points="207.69,219.74 214.09,222.35 207.89,224.69 201.48,222.11" fill="#4537d5" stroke="#4537d5"/><polygon points="214.09,222.35 220.52,225.00 214.32,227.31 207.89,224.69" fill="#4537d5" stroke="#4537d5"/><polygon points="220.52,225.00 226.97,227.67 220.77,229.94 214.32,227.31" fill="#4537d5" stroke="#4537d5"/><polygon points="226.97,227.67 233.45,230.36 227.25,232.59 220.77,229.94" fill="#4332cb" stroke="#4332cb"/><polygon points="233.45,230.36 239.95,233.07 233.75,235.26 227.25,232.59" fill="#4332cb" stroke="#4332cb"/><polygon points="239.95,233.07 246.48,235.78 240.28,237.93 233.75,235.26" fill="#4332cb" stroke="#4332cb"/><polygon points="246.48,235.78 253.03,238.50 246.83,240.60 240.28,237.93" fill="#4332cb" stroke="#4332cb"/><polygon points="253.03,238.50 259.60,241.19 253.40,243.26 246.83,240.60" fill="#4332cb" stroke="#4332cb"/><polygon points="259.60,241.19 266.20,243.82 260.00,245.85 253.40,243.26" fill="#4332cb" stroke="#4332cb"/><polygon points="102.25,185.10 108.27,187.14 102.06,189.25 96.04,187.15" fill="#4537d5" stroke="#4537d5"/><polygon points="108.27,187.14 114.32,189.21 108.11,191.38 102.06,189.25" fill="#4537d5" stroke="#4537d5"/><polygon points="114.32,189.21 120.39,191.33 114.18,193.54 108.11,191.38" fill="#4537d5" stroke="#4537d5"/><polygon points="120.39,191.33 126.48,193.48 120.27,195.73 114.18,193.54" fill="#4537d5" stroke="#4537d5"/><polygon points="126.48,193.48 132.60,195.67 126.39,197.95 120.27,195.73" fill="#4537d5" stroke="#4537d5"/><polygon points="132.60,195.67 138.74,197.90 132.53,200.21 126.39,197.95" fill="#4537d5" stroke="#4537d5"/><polygon points="138.74,197.90 144.91,200.16 138.70,202.50 132.53,200.21" fill="#4537d5" stroke="#4537d5"/><polygon points="144.91,200.16 151.10,202.47 144.89,204.81 138.70,202.50" fill="#4537d5" stroke="#4537d5"/><polygon points="151.10,202.47 157.31,204.80 151.10,207.16 144.89,204.81" fill="#4537d5" stroke="#4537d5"/><polygon points="157.31,204.80 163.55,207.18 157.34,209.53 151.10,207.16" fill="#4537d5" stroke="#4537d5"/><polygon points="163.55,207.18 169.81,209.59 163.60,211.93 157.34,209.53" fill="#4537d5" stroke="#4537d5"/><polygon points="169.81,209.59 176.10,212.03 169.89,214.36 163.60,211.93" fill="#4537d5" stroke="#4537d5"/><polygon points="176.10,212.03 182.41,214.50 176.20,216.82 169.89,214.36" fill="#4537d5" stroke="#4537d5"/><polygon points="182.41,214.50 188.74,217.01 182.53,219.30 176.20,216.82" fill="#4537d5" stroke="#4537d5"/><polygon points="188.74,217.01 195.10,219.54 188.89,221.81 182.53,219.30" fill="#4537d5" stroke="#4537d5"/><polygon points="195.10,219.54 201.48,222.11 195.28,224.34 188.89,221.81" fill="#4332cb" stroke="#4332cb"/><polygon points="201.48,222.11 207.89,224.69 201.68,226.89 195.28,224.34" fill="#4332cb" stroke="#4332cb"/><polygon points="207.89,224.69 214.32,227.31 208.11,229.46 201.68,226.89" fill="#4332cb" stroke="#4332cb"/><polygon points="214.32,227.31 220.77,229.94 214.57,232.05 208.11,229.46" fill="#4332cb" stroke="#4332cb"/><polygon points="220.77,229.94 227.25,232.59 221.05,234.66 214.57,232.05" fill="#4332cb" stroke="#4332cb"/><polygon points="227.25,232.59 233.75,235.26 227.55,237.27 221.05,234.66" fill="#4332cb" stroke="#4332cb"/><polygon points="233.75,235.26 240.28,237.93 234.08,239.90 227.55,237.27" fill="#4332cb" stroke="#4332cb"/><polygon points="240.28,237.93 246.83,240.60 240.63,242.52 234.08,239.90" fill="#4332cb" stroke="#4332cb"/><polygon points="246.83,240.60 253.40,243.26 247.20,245.13 240.63,242.52" fill="#422ec0" stroke="#422ec0"/><polygon points="253.40,243.26 260.00,245.85 253.80,247.69 247.20,245.13" fill="#422ec0" stroke="#422ec0"/><polygon points="96.04,187.15 102.06,189.25 95.85,191.36 89.82,189.20" fill="#4332cb" stroke="#4332cb"/><polygon points="102.06,189.25 108.11,191.38 101.89,193.54 95.85,191.36" fill="#4332cb" stroke="#4332cb"/><polygon points="108.11,191.38 114.18,193.54 107.96,195.75 101.89,193.54" fill="#4332cb" stroke="#4332cb"/><polygon points="114.18,193.54 120.27,195.73 114.06,197.98 107.96,195.75" fill="#4332cb" stroke="#4332cb"/><polygon points="120.27,195.73 126.39,197.95 120.18,200.24 114.06,197.98" fill="#4332cb" stroke="#4332cb"/><polygon points="126.39,197.95 132.53,200.21 126.32,202.52 120.18,200.24" fill="#4332cb" stroke="#4332cb"/><polygon points="132.53,200.21 138.70,202.50 132.49,204.83 126.32,202.52" fill="#4332cb" stroke="#4332cb"/><polygon points="138.70,202.50 144.89,204.81 138.68,207.16 132.49,204.83" fill="#4332cb" stroke="#4332cb"/><polygon points="144.89,204.81 151.10,207.16 144.89,209.51 138.68,207.16" fill="#4332cb" stroke="#4332cb"/><polygon points="151.10,207.16 157.34,209.53 151.13,211.88 144.89,209.51" fill="#4332cb" stroke="#4332cb"/><polygon points="157.34,209.53 163.60,211.93 157.40,214.28 151.13,211.88" fill="#4332cb" stroke="#4332cb"/><polygon points="163.60,211.93 169.89,214.36 163.68,216.70 157.40,214.28" fill="#4332cb" stroke="#4332cb"/><polygon points="169.89,214.36 176.20,216.82 169.99,219.14 163.68,216.70" fill="#4332cb" stroke="#4332cb"/><polygon points="176.20,216.82 182.53,219.30 176.33,221.60 169.99,219.14" fill="#4332cb" stroke="#4332cb"/><polygon points="182.53,219.30 188.89,221.81 182.69,224.08 176.33,221.60" fill="#4332cb" stroke="#4332cb"/><polygon points="188.89,221.81 195.28,224.34 189.07,226.58 182.69,224.08" fill="#4332cb" stroke="#4332cb"/><polygon points="195.28,224.34 201.68,226.89 195.48,229.09 189.07,226.58" fill="#4332cb" stroke="#4332cb"/><polygon points="201.68,226.89 208.11,229.46 201.91,231.62 195.48,229.09" fill="#4332cb" stroke="#4332cb"/><polygon points="208.11,229.46 214.57,232.05 208.36,234.17 201.91,231.62" fill="#4332cb" stroke="#4332cb"/><polygon points="214.57,232.05 221.05,234.66 214.84,236.72 208.36,234.17" fill="#4332cb" stroke="#4332cb"/><polygon points="221.05,234.66 227.55,237.27 221.35,239.29 214.84,236.72" fill="#422ec0" stroke="#422ec0"/><polygon points="227.55,237.27 234.08,239.90 227.87,241.86 221.35,239.29" fill="#422ec0" stroke="#422ec0"/><polygon points="234.08,239.90 240.63,242.52 234.43,244.43 227.87,241.86" fill="#422ec0" stroke="#422ec0"/><polygon points="240.63,242.52 247.20,245.13 241.00,247.00 234.43,244.43" fill="#422ec0" stroke="#422ec0"/><polygon points="247.20,245.13 253.80,247.69 247.60,249.52 241.00,247.00" fill="#422ec0" stroke="#422ec0"/><polygon points="89.82,189.20 95.85,191.36 89.64,193.47 83.61,191.25" fill="#4332cb" stroke="#4332cb"/><polygon points="95.85,191.36 101.89,193.54 95.68,195.70 89.64,193.47" fill="#4332cb" stroke="#4332cb"/><polygon points="101.89,193.54 107.96,195.75 101.75,197.95 95.68,195.70" fill="#4332cb" stroke="#4332cb"/><polygon points="107.96,195.75 114.06,197.98 107.85,200.22 101.75,197.95" fill="#4332cb" stroke="#4332cb"/><polygon points="114.06,197.98 120.18,200.24 113.97,202.51 107.85,200.22" fill="#4332cb" stroke="#4332cb"/><polygon points="120.18,200.24 126.32,202.52 120.11,204.81 113.97,202.51" fill="#4332cb" stroke="#4332cb"/><polygon points="126.32,202.52 132.49,204.83 126.28,207.13 120.11,204.81" fill="#4332cb" stroke="#4332cb"/><polygon points="132.49,204.83 138.68,207.16 132.47,209.47 126.28,207.13" fill="#4332cb" stroke="#4332cb"/><polygon points="138.68,207.16 144.89,209.51 138.68,211.83 132.47,209.47" fill="#4332cb" stroke="#4332cb"/><polygon points="144.89,209.51 151.13,211.88 144.92,214.20 138.68,211.83" fill="#4332cb" stroke="#4332cb"/><polygon points="151.13,211.88 157.40,214.28 151.19,216.59 144.92,214.20" fill="#4332cb" stroke="#4332cb"/><polygon points="157.40,214.28 163.68,216.70 157.48,218.99 151.19,216.59" fill="#4332cb" stroke="#4332cb"/><polygon points="163.68,216.70 169.99,219.14 163.79,221.41 157.48,218.99" fill="#4332cb" stroke="#4332cb"/><polygon points="169.99,219.14 176.33,221.60 170.12,223.84 163.79,221.41" fill="#4332cb" stroke="#4332cb"/><polygon points="176.33,221.60 182.69,224.08 176.48,226.29 170.12,223.84" fill="#4332cb" stroke="#4332cb"/><polygon points="182.69,224.08 189.07,226.58 182.87,228.75 176.48,226.29" fill="#4332cb" stroke="#4332cb"/><polygon points="189.07,226.58 195.48,229.09 189.27,231.22 182.87,228.75" fill="#422ec0" stroke="#422ec0"/><polygon points="195.48,229.09 201.91,231.62 195.70,233.70 189.27,231.22" fill="#422ec0" stroke="#422ec0"/><polygon points="201.91,231.62 208.36,234.17 202.16,236.20 195.70,233.70" fill="#422ec0" stroke="#422ec0"/><polygon points="208.36,234.17 214.84,236.72 208.64,238.71 202.16,236.20" fill="#422ec0" stroke="#422ec0"/><polygon points="214.84,236.72 221.35,239.29 215.14,241.22 208.64,238.71" fill="#422ec0" stroke="#422ec0"/><polygon points="221.35,239.29 227.87,241.86 221.67,243.74 215.14,241.22" fill="#422ec0" stroke="#422ec0"/><polygon points="227.87,241.86 234.43,244.43 228.22,246.25 221.67,243.74" fill="#422ec0" stroke="#422ec0"/><polygon points="234.43,244.43 241.00,247.00 234.80,248.77 228.22,246.25" fill="#422ec0" stroke="#422ec0"/><polygon points="241.00,247.00 247.60,249.52 241.40,251.26 234.80,248.77" fill="#422ec0" stroke="#422ec0"/><polygon points="83.61,191.25 89.64,193.47 83.42,195.57 77.40,193.30" fill="#4332cb" stroke="#4332cb"/><polygon points="89.64,193.47 95.68,195.70 89.47,197.86 83.42,195.57" fill="#4332cb" stroke="#4332cb"/><polygon points="95.68,195.70 101.75,197.95 95.54,200.15 89.47,197.86" fill="#4332cb" stroke="#4332cb"/><polygon points="101.75,197.95 107.85,200.22 101.64,202.46 95.54,200.15" fill="#4332cb" stroke="#4332cb"/><polygon points="107.85,200.22 113.97,202.51 107.76,204.77 101.64,202.46" fill="#4332cb" stroke="#4332cb"/><polygon points="113.97,202.51 120.11,204.81 113.90,207.10 107.76,204.77" fill="#422ec0" stroke="#422ec0"/><polygon points="120.11,204.81 126.28,207.13 120.07,209.44 113.90,207.10" fill="#422ec0" stroke="#422ec0"/><polygon points="126.28,207.13 132.47,209.47 126.26,211.79 120.07,209.44" fill="#422ec0" stroke="#422ec0"/><polygon points="132.47,209.47 138.68,211.83 132.48,214.14 126.26,211.79" fill="#422ec0" stroke="#422ec0"/><polygon points="138.68,211.83 144.92,214.20 138.72,216.51 132.48,214.14" fill="#422ec0" stroke="#422ec0"/><polygon points="144.92,214.20 151.19,216.59 144.98,218.89 138.72,216.51" fill="#422ec0" stroke="#422ec0"/><polygon points="151.19,216.59 157.48,218.99 151.27,221.28 144.98,218.89" fill="#422ec0" stroke="#422ec0"/><polygon points="157.48,218.99 163.79,221.41 157.58,223.67 151.27,221.28" fill="#422ec0" stroke="#422ec0"/><polygon points="163.79,221.41 170.12,223.84 163.92,226.08 157.58,223.67" fill="#422ec0" stroke="#422ec0"/><polygon points="170.12,223.84 176.48,226.29 170.28,228.49 163.92,226.08" fill="#422ec0" stroke="#422ec0"/><polygon points="176.48,226.29 182.87,228.75 176.66,230.92 170.28,228.49" fill="#422ec0" stroke="#422ec0"/><polygon points="182.87,228.75 189.27,231.22 183.07,233.35 176.66,230.92" fill="#422ec0" stroke="#422ec0"/><polygon points="189.27,231.22 195.70,233.70 189.50,235.79 183.07,233.35" fill="#422ec0" stroke="#422ec0"/><polygon points="195.70,233.70 202.16,236.20 195.96,238.23 189.50,235.79" fill="#422ec0" stroke="#422ec0"/><polygon points="202.16,236.20 208.64,238.71 202.44,240.69 195.96,238.23" fill="#422ec0" stroke="#422ec0"/><polygon points="208.64,238.71 215.14,241.22 208.94,243.15 202.44,240.69" fill="#422ec0" stroke="#422ec0"/><polygon points="215.14,241.22 221.67,243.74 215.47,245.61 208.94,243.15" fill="#422ec0" stroke="#422ec0"/><polygon points="221.67,243.74 228.22,246.25 222.02,248.08 215.47,245.61" fill="#422ec0" stroke="#422ec0"/><polygon points="228.22,246.25 234.80,248.77 228.60,250.54 222.02,248.08" fill="#422ec0" stroke="#422ec0"/><polygon points="234.80,248.77 241.40,251.26 235.20,253.00 228.60,250.54" fill="#402ab4" stroke="#402ab4"/></g>
<path d="M282.10,33.70 L288.11,36.87 L294.14,40.27 L300.20,43.80 L306.28,47.46 L312.38,51.03 L318.51,54.74 L324.66,58.36 L330.84,61.79 L337.04,65.65 L343.26,69.22 L349.51,73.06 L355.78,77.16 L362.08,81.47 L368.40,85.99 L374.74,91.23 L381.11,96.39 L387.50,101.29 L393.92,107.25 L400.36,113.41 L406.82,119.57 L413.31,126.28 L419.82,132.82 L426.36,139.36 L432.92,145.43 L439.50,150.80 M274.20,36.16 L280.21,39.38 L286.24,42.88 L292.30,46.56 L298.38,50.40 L304.48,54.17 L310.61,58.13 L316.77,62.09 L322.94,65.93 L329.14,70.23 L335.37,74.21 L341.62,78.48 L347.89,83.08 L354.19,87.88 L360.51,92.81 L366.85,98.25 L373.22,103.39 L379.61,108.10 L386.03,113.75 L392.47,119.51 L398.93,125.24 L405.42,131.37 L411.93,137.14 L418.47,143.03 L425.03,148.58 L431.62,153.50 M266.50,51.00 L272.51,53.72 L278.54,56.64 L284.60,59.73 L290.68,63.01 L296.79,66.47 L302.92,70.10 L309.07,73.91 L315.25,77.87 L321.45,82.00 L327.67,86.28 L333.92,90.70 L340.20,95.25 L346.49,99.94 L352.81,104.74 L359.16,109.65 L365.53,114.64 L371.92,119.72 L378.34,124.84 L384.78,130.00 L391.24,135.16 L397.73,140.29 L404.25,145.33 L410.78,150.21 L417.35,154.80 L423.93,158.72 M257.50,73.60 L263.51,75.59 L269.54,77.78 L275.60,80.16 L281.68,82.73 L287.79,85.49 L293.92,88.43 L300.07,91.54 L306.25,94.83 L312.45,98.29 L318.68,101.91 L324.93,105.68 L331.20,109.61 L337.50,113.68 L343.82,117.87 L350.17,122.19 L356.54,126.62 L362.93,131.14 L369.35,135.74 L375.79,140.39 L382.26,145.08 L388.75,149.76 L395.26,154.40 L401.80,158.92 L408.36,163.22 L414.95,166.96 M250.10,90.10 L256.11,91.28 L262.15,92.69 L268.20,94.34 L274.29,96.21 L280.39,98.30 L286.52,100.62 L292.68,103.15 L298.86,105.90 L305.06,108.85 L311.29,112.00 L317.54,115.35 L323.81,118.88 L330.11,122.60 L336.43,126.48 L342.78,130.52 L349.15,134.70 L355.54,139.02 L361.96,143.45 L368.40,147.96 L374.87,152.55 L381.36,157.16 L387.88,161.76 L394.41,166.27 L400.98,170.59 L407.56,174.35 M244.00,102.50 L250.01,103.27 L256.05,104.28 L262.11,105.53 L268.19,107.02 L274.30,108.75 L280.43,110.71 L286.58,112.89 L292.76,115.30 L298.96,117.93 L305.19,120.77 L311.44,123.81 L317.72,127.06 L324.02,130.50 L330.34,134.11 L336.68,137.90 L343.06,141.85 L349.45,145.95 L355.87,150.17 L362.31,154.49 L368.78,158.90 L375.27,163.35 L381.79,167.81 L388.32,172.21 L394.89,176.44 L401.47,180.15 M237.30,112.40 L243.31,112.78 L249.35,113.42 L255.41,114.33 L261.49,115.48 L267.60,116.89 L273.73,118.55 L279.88,120.45 L286.06,122.59 L292.27,124.97 L298.50,127.58 L304.75,130.41 L311.02,133.46 L317.32,136.72 L323.65,140.17 L329.99,143.81 L336.36,147.63 L342.76,151.61 L349.18,155.73 L355.62,159.98 L362.09,164.32 L368.58,168.73 L375.10,173.15 L381.64,177.53 L388.20,181.75 L394.79,185.47 M230.30,120.30 L236.31,120.58 L242.35,121.11 L248.41,121.90 L254.49,122.95 L260.60,124.24 L266.73,125.78 L272.89,127.56 L279.07,129.58 L285.27,131.83 L291.50,134.31 L297.75,137.01 L304.03,139.93 L310.33,143.05 L316.65,146.37 L323.00,149.88 L329.37,153.57 L335.77,157.42 L342.19,161.41 L348.63,165.53 L355.10,169.74 L361.59,174.03 L368.11,178.34 L374.65,182.62 L381.21,186.75 L387.80,190.41 M222.80,126.00 L228.81,126.62 L234.85,127.46 L240.91,128.52 L246.99,129.80 L253.10,131.29 L259.24,133.00 L265.39,134.93 L271.57,137.05 L277.78,139.39 L284.01,141.91 L290.26,144.64 L296.54,147.54 L302.84,150.63 L309.16,153.89 L315.51,157.31 L321.88,160.88 L328.28,164.59 L334.70,168.43 L341.14,172.37 L347.61,176.40 L354.11,180.49 L360.62,184.59 L367.16,188.66 L373.73,192.60 L380.32,196.12 M215.70,131.80 L221.71,132.60 L227.75,133.61 L233.81,134.81 L239.90,136.21 L246.01,137.80 L252.14,139.59 L258.30,141.56 L264.48,143.72 L270.68,146.06 L276.91,148.57 L283.16,151.26 L289.44,154.12 L295.74,157.13 L302.07,160.30 L308.42,163.62 L314.79,167.07 L321.19,170.64 L327.61,174.33 L334.05,178.11 L340.52,181.97 L347.02,185.88 L353.53,189.81 L360.08,193.70 L366.64,197.48 L373.23,200.89 M209.60,136.90 L215.61,137.85 L221.65,138.97 L227.71,140.28 L233.80,141.76 L239.91,143.42 L246.04,145.25 L252.20,147.25 L258.38,149.42 L264.59,151.76 L270.82,154.25 L277.07,156.90 L283.35,159.70 L289.65,162.65 L295.97,165.73 L302.32,168.95 L308.70,172.29 L315.10,175.74 L321.52,179.29 L327.96,182.93 L334.43,186.65 L340.93,190.40 L347.44,194.18 L353.99,197.92 L360.55,201.56 L367.14,204.87 M203.10,141.30 L209.11,142.37 L215.15,143.61 L221.21,145.02 L227.30,146.58 L233.41,148.30 L239.54,150.18 L245.70,152.22 L251.88,154.40 L258.09,156.74 L264.32,159.22 L270.58,161.84 L276.85,164.61 L283.16,167.50 L289.48,170.52 L295.83,173.66 L302.21,176.91 L308.60,180.26 L315.03,183.71 L321.47,187.23 L327.94,190.82 L334.44,194.45 L340.96,198.10 L347.50,201.72 L354.06,205.25 L360.65,208.47 M196.80,145.30 L202.81,146.51 L208.85,147.86 L214.92,149.36 L221.00,151.01 L227.11,152.80 L233.25,154.73 L239.41,156.80 L245.59,159.01 L251.80,161.35 L258.03,163.82 L264.28,166.43 L270.56,169.15 L276.86,171.99 L283.19,174.95 L289.54,178.02 L295.91,181.18 L302.31,184.44 L308.74,187.78 L315.18,191.19 L321.65,194.66 L328.15,198.17 L334.67,201.69 L341.21,205.19 L347.78,208.61 L354.37,211.75 M190.00,149.00 L196.02,150.26 L202.05,151.66 L208.12,153.20 L214.20,154.88 L220.32,156.69 L226.45,158.64 L232.61,160.72 L238.79,162.94 L245.00,165.28 L251.23,167.74 L257.49,170.33 L263.77,173.03 L270.07,175.84 L276.40,178.77 L282.75,181.80 L289.12,184.92 L295.52,188.13 L301.94,191.42 L308.39,194.78 L314.86,198.19 L321.36,201.64 L327.88,205.11 L334.42,208.55 L340.99,211.91 L347.58,215.02 M183.50,152.40 L189.52,153.71 L195.56,155.15 L201.62,156.72 L207.71,158.42 L213.82,160.25 L219.95,162.21 L226.11,164.30 L232.30,166.51 L238.50,168.83 L244.74,171.28 L250.99,173.84 L257.27,176.52 L263.58,179.30 L269.90,182.18 L276.25,185.16 L282.63,188.23 L289.03,191.39 L295.45,194.62 L301.90,197.92 L308.37,201.27 L314.87,204.65 L321.39,208.05 L327.93,211.43 L334.50,214.73 L341.09,217.80 M177.00,155.70 L183.02,157.05 L189.06,158.53 L195.12,160.14 L201.21,161.86 L207.32,163.71 L213.46,165.68 L219.62,167.77 L225.80,169.97 L232.01,172.29 L238.24,174.72 L244.50,177.26 L250.78,179.90 L257.08,182.65 L263.41,185.49 L269.76,188.42 L276.14,191.44 L282.54,194.54 L288.96,197.71 L295.41,200.95 L301.88,204.23 L308.38,207.55 L314.90,210.88 L321.44,214.20 L328.01,217.44 L334.61,220.47 M170.50,158.90 L176.52,160.30 L182.56,161.81 L188.62,163.44 L194.71,165.18 L200.82,167.05 L206.96,169.02 L213.12,171.10 L219.30,173.30 L225.51,175.60 L231.75,178.01 L238.00,180.51 L244.28,183.12 L250.59,185.83 L256.92,188.62 L263.27,191.50 L269.65,194.47 L276.05,197.50 L282.47,200.61 L288.92,203.78 L295.39,206.99 L301.89,210.24 L308.41,213.50 L314.96,216.74 L321.53,219.93 L328.12,222.91 M164.20,161.90 L170.22,163.35 L176.26,164.91 L182.32,166.57 L188.41,168.35 L194.53,170.23 L200.66,172.22 L206.82,174.32 L213.01,176.51 L219.22,178.81 L225.45,181.21 L231.71,183.70 L237.99,186.28 L244.29,188.96 L250.62,191.72 L256.98,194.56 L263.35,197.48 L269.76,200.47 L276.18,203.52 L282.63,206.63 L289.10,209.79 L295.60,212.97 L302.12,216.17 L308.67,219.36 L315.24,222.50 L321.83,225.44 M158.10,164.60 L164.12,166.11 L170.16,167.72 L176.22,169.44 L182.31,171.26 L188.43,173.18 L194.56,175.19 L200.73,177.31 L206.91,179.52 L213.12,181.83 L219.36,184.23 L225.61,186.71 L231.89,189.29 L238.20,191.95 L244.53,194.69 L250.88,197.51 L257.26,200.39 L263.66,203.35 L270.09,206.36 L276.54,209.43 L283.01,212.54 L289.51,215.68 L296.03,218.83 L302.58,221.97 L309.15,225.06 L315.74,227.97 M152.00,167.20 L158.02,168.77 L164.06,170.44 L170.13,172.20 L176.22,174.06 L182.33,176.01 L188.47,178.05 L194.63,180.18 L200.82,182.41 L207.03,184.72 L213.26,187.12 L219.52,189.60 L225.80,192.16 L232.11,194.80 L238.44,197.52 L244.79,200.31 L251.17,203.16 L257.57,206.08 L264.00,209.05 L270.45,212.07 L276.92,215.13 L283.42,218.22 L289.94,221.32 L296.49,224.41 L303.06,227.45 L309.65,230.32 M145.70,169.80 L151.72,171.43 L157.76,173.15 L163.83,174.95 L169.92,176.85 L176.03,178.83 L182.17,180.89 L188.33,183.05 L194.52,185.28 L200.73,187.60 L206.96,189.99 L213.22,192.46 L219.51,195.01 L225.81,197.63 L232.14,200.32 L238.50,203.08 L244.88,205.90 L251.28,208.77 L257.71,211.70 L264.16,214.67 L270.63,217.68 L277.13,220.72 L283.65,223.76 L290.20,226.80 L296.77,229.79 L303.37,232.63 M139.40,172.20 L145.42,173.88 L151.46,175.65 L157.53,177.50 L163.62,179.43 L169.73,181.43 L175.87,183.52 L182.04,185.69 L188.22,187.93 L194.43,190.24 L200.67,192.63 L206.93,195.09 L213.21,197.62 L219.52,200.22 L225.85,202.88 L232.21,205.60 L238.58,208.38 L244.99,211.21 L251.42,214.09 L257.87,217.01 L264.34,219.96 L270.84,222.94 L277.36,225.94 L283.91,228.92 L290.48,231.86 L297.08,234.66 M133.30,174.50 L139.32,176.24 L145.36,178.05 L151.43,179.94 L157.52,181.90 L163.64,183.93 L169.78,186.04 L175.94,188.22 L182.13,190.46 L188.34,192.78 L194.57,195.16 L200.83,197.60 L207.12,200.11 L213.42,202.68 L219.76,205.31 L226.11,208.00 L232.49,210.73 L238.90,213.52 L245.32,216.35 L251.78,219.21 L258.25,222.11 L264.75,225.04 L271.27,227.97 L277.82,230.90 L284.39,233.79 L290.99,236.55 M127.10,176.90 L133.12,178.68 L139.16,180.54 L145.23,182.45 L151.32,184.44 L157.44,186.49 L163.58,188.60 L169.74,190.78 L175.93,193.02 L182.14,195.33 L188.38,197.69 L194.64,200.11 L200.92,202.59 L207.23,205.12 L213.56,207.71 L219.92,210.35 L226.30,213.03 L232.70,215.76 L239.13,218.53 L245.58,221.33 L252.06,224.17 L258.56,227.02 L265.09,229.89 L271.63,232.75 L278.21,235.59 L284.80,238.31 M120.89,178.95 L126.91,180.79 L132.95,182.70 L139.02,184.66 L145.11,186.68 L151.23,188.76 L157.37,190.90 L163.53,193.10 L169.72,195.35 L175.93,197.66 L182.17,200.02 L188.43,202.43 L194.72,204.90 L201.02,207.41 L207.36,209.97 L213.71,212.58 L220.09,215.23 L226.50,217.92 L232.93,220.64 L239.38,223.40 L245.86,226.19 L252.36,228.99 L258.88,231.80 L265.43,234.61 L272.01,237.40 L278.60,240.09 M114.68,181.00 L120.70,182.90 L126.74,184.86 L132.81,186.87 L138.90,188.94 L145.02,191.05 L151.16,193.22 L157.32,195.43 L163.51,197.70 L169.73,200.01 L175.96,202.37 L182.22,204.78 L188.51,207.23 L194.82,209.73 L201.15,212.27 L207.51,214.85 L213.89,217.47 L220.30,220.12 L226.72,222.80 L233.18,225.52 L239.65,228.25 L246.16,231.01 L252.68,233.77 L259.23,236.53 L265.80,239.27 L272.40,241.93 M108.46,183.05 L114.48,185.02 L120.53,187.03 L126.60,189.09 L132.69,191.20 L138.81,193.35 L144.95,195.54 L151.12,197.78 L157.30,200.06 L163.52,202.38 L169.76,204.75 L176.02,207.15 L182.30,209.60 L188.61,212.08 L194.95,214.60 L201.30,217.15 L207.69,219.74 L214.09,222.35 L220.52,225.00 L226.97,227.67 L233.45,230.36 L239.95,233.07 L246.48,235.78 L253.03,238.50 L259.60,241.19 L266.20,243.82 M102.25,185.10 L108.27,187.14 L114.32,189.21 L120.39,191.33 L126.48,193.48 L132.60,195.67 L138.74,197.90 L144.91,200.16 L151.10,202.47 L157.31,204.80 L163.55,207.18 L169.81,209.59 L176.10,212.03 L182.41,214.50 L188.74,217.01 L195.10,219.54 L201.48,222.11 L207.89,224.69 L214.32,227.31 L220.77,229.94 L227.25,232.59 L233.75,235.26 L240.28,237.93 L246.83,240.60 L253.40,243.26 L260.00,245.85 M96.04,187.15 L102.06,189.25 L108.11,191.38 L114.18,193.54 L120.27,195.73 L126.39,197.95 L132.53,200.21 L138.70,202.50 L144.89,204.81 L151.10,207.16 L157.34,209.53 L163.60,211.93 L169.89,214.36 L176.20,216.82 L182.53,219.30 L188.89,221.81 L195.28,224.34 L201.68,226.89 L208.11,229.46 L214.57,232.05 L221.05,234.66 L227.55,237.27 L234.08,239.90 L240.63,242.52 L247.20,245.13 L253.80,247.69 M89.82,189.20 L95.85,191.36 L101.89,193.54 L107.96,195.75 L114.06,197.98 L120.18,200.24 L126.32,202.52 L132.49,204.83 L138.68,207.16 L144.89,209.51 L151.13,211.88 L157.40,214.28 L163.68,216.70 L169.99,219.14 L176.33,221.60 L182.69,224.08 L189.07,226.58 L195.48,229.09 L201.91,231.62 L208.36,234.17 L214.84,236.72 L221.35,239.29 L227.87,241.86 L234.43,244.43 L241.00,247.00 L247.60,249.52 M83.61,191.25 L89.64,193.47 L95.68,195.70 L101.75,197.95 L107.85,200.22 L113.97,202.51 L120.11,204.81 L126.28,207.13 L132.47,209.47 L138.68,211.83 L144.92,214.20 L151.19,216.59 L157.48,218.99 L163.79,221.41 L170.12,223.84 L176.48,226.29 L182.87,228.75 L189.27,231.22 L195.70,233.70 L202.16,236.20 L208.64,238.71 L215.14,241.22 L221.67,243.74 L228.22,246.25 L234.80,248.77 L241.40,251.26 M77.40,193.30 L83.42,195.57 L89.47,197.86 L95.54,200.15 L101.64,202.46 L107.76,204.77 L113.90,207.10 L120.07,209.44 L126.26,211.79 L132.48,214.14 L138.72,216.51 L144.98,218.89 L151.27,221.28 L157.58,223.67 L163.92,226.08 L170.28,228.49 L176.66,230.92 L183.07,233.35 L189.50,235.79 L195.96,238.23 L202.44,240.69 L208.94,243.15 L215.47,245.61 L222.02,248.08 L228.60,250.54 L235.20,253.00 M282.10,33.70 L274.20,36.16 L266.50,51.00 L257.50,73.60 L250.10,90.10 L244.00,102.50 L237.30,112.40 L230.30,120.30 L222.80,126.00 L215.70,131.80 L209.60,136.90 L203.10,141.30 L196.80,145.30 L190.00,149.00 L183.50,152.40 L177.00,155.70 L170.50,158.90 L164.20,161.90 L158.10,164.60 L152.00,167.20 L145.70,169.80 L139.40,172.20 L133.30,174.50 L127.10,176.90 L120.89,178.95 L114.68,181.00 L108.46,183.05 L102.25,185.10 L96.04,187.15 L89.82,189.20 L83.61,191.25 L77.40,193.30 M288.11,36.87 L280.21,39.38 L272.51,53.72 L263.51,75.59 L256.11,91.28 L250.01,103.27 L243.31,112.78 L236.31,120.58 L228.81,126.62 L221.71,132.60 L215.61,137.85 L209.11,142.37 L202.81,146.51 L196.02,150.26 L189.52,153.71 L183.02,157.05 L176.52,160.30 L170.22,163.35 L164.12,166.11 L158.02,168.77 L151.72,171.43 L145.42,173.88 L139.32,176.24 L133.12,178.68 L126.91,180.79 L120.70,182.90 L114.48,185.02 L108.27,187.14 L102.06,189.25 L95.85,191.36 L89.64,193.47 L83.42,195.57 M294.14,40.27 L286.24,42.88 L278.54,56.64 L269.54,77.78 L262.15,92.69 L256.05,104.28 L249.35,113.42 L242.35,121.11 L234.85,127.46 L227.75,133.61 L221.65,138.97 L215.15,143.61 L208.85,147.86 L202.05,151.66 L195.56,155.15 L189.06,158.53 L182.56,161.81 L176.26,164.91 L170.16,167.72 L164.06,170.44 L157.76,173.15 L151.46,175.65 L145.36,178.05 L139.16,180.54 L132.95,182.70 L126.74,184.86 L120.53,187.03 L114.32,189.21 L108.11,191.38 L101.89,193.54 L95.68,195.70 L89.47,197.86 M300.20,43.80 L292.30,46.56 L284.60,59.73 L275.60,80.16 L268.20,94.34 L262.11,105.53 L255.41,114.33 L248.41,121.90 L240.91,128.52 L233.81,134.81 L227.71,140.28 L221.21,145.02 L214.92,149.36 L208.12,153.20 L201.62,156.72 L195.12,160.14 L188.62,163.44 L182.32,166.57 L176.22,169.44 L170.13,172.20 L163.83,174.95 L157.53,177.50 L151.43,179.94 L145.23,182.45 L139.02,184.66 L132.81,186.87 L126.60,189.09 L120.39,191.33 L114.18,193.54 L107.96,195.75 L101.75,197.95 L95.54,200.15 M306.28,47.46 L298.38,50.40 L290.68,63.01 L281.68,82.73 L274.29,96.21 L268.19,107.02 L261.49,115.48 L254.49,122.95 L246.99,129.80 L239.90,136.21 L233.80,141.76 L227.30,146.58 L221.00,151.01 L214.20,154.88 L207.71,158.42 L201.21,161.86 L194.71,165.18 L188.41,168.35 L182.31,171.26 L176.22,174.06 L169.92,176.85 L163.62,179.43 L157.52,181.90 L151.32,184.44 L145.11,186.68 L138.90,188.94 L132.69,191.20 L126.48,193.48 L120.27,195.73 L114.06,197.98 L107.85,200.22 L101.64,202.46 M312.38,51.03 L304.48,54.17 L296.79,66.47 L287.79,85.49 L280.39,98.30 L274.30,108.75 L267.60,116.89 L260.60,124.24 L253.10,131.29 L246.01,137.80 L239.91,143.42 L233.41,148.30 L227.11,152.80 L220.32,156.69 L213.82,160.25 L207.32,163.71 L200.82,167.05 L194.53,170.23 L188.43,173.18 L182.33,176.01 L176.03,178.83 L169.73,181.43 L163.64,183.93 L157.44,186.49 L151.23,188.76 L145.02,191.05 L138.81,193.35 L132.60,195.67 L126.39,197.95 L120.18,200.24 L113.97,202.51 L107.76,204.77 M318.51,54.74 L310.61,58.13 L302.92,70.10 L293.92,88.43 L286.52,100.62 L280.43,110.71 L273.73,118.55 L266.73,125.78 L259.24,133.00 L252.14,139.59 L246.04,145.25 L239.54,150.18 L233.25,154.73 L226.45,158.64 L219.95,162.21 L213.46,165.68 L206.96,169.02 L200.66,172.22 L194.56,175.19 L188.47,178.05 L182.17,180.89 L175.87,183.52 L169.78,186.04 L163.58,188.60 L157.37,190.90 L151.16,193.22 L144.95,195.54 L138.74,197.90 L132.53,200.21 L126.32,202.52 L120.11,204.81 L113.90,207.10 M324.66,58.36 L316.77,62.09 L309.07,73.91 L300.07,91.54 L292.68,103.15 L286.58,112.89 L279.88,120.45 L272.89,127.56 L265.39,134.93 L258.30,141.56 L252.20,147.25 L245.70,152.22 L239.41,156.80 L232.61,160.72 L226.11,164.30 L219.62,167.77 L213.12,171.10 L206.82,174.32 L200.73,177.31 L194.63,180.18 L188.33,183.05 L182.04,185.69 L175.94,188.22 L169.74,190.78 L163.53,193.10 L157.32,195.43 L151.12,197.78 L144.91,200.16 L138.70,202.50 L132.49,204.83 L126.28,207.13 L120.07,209.44 M330.84,61.79 L322.94,65.93 L315.25,77.87 L306.25,94.83 L298.86,105.90 L292.76,115.30 L286.06,122.59 L279.07,129.58 L271.57,137.05 L264.48,143.72 L258.38,149.42 L251.88,154.40 L245.59,159.01 L238.79,162.94 L232.30,166.51 L225.80,169.97 L219.30,173.30 L213.01,176.51 L206.91,179.52 L200.82,182.41 L194.52,185.28 L188.22,187.93 L182.13,190.46 L175.93,193.02 L169.72,195.35 L163.51,197.70 L157.30,200.06 L151.10,202.47 L144.89,204.81 L138.68,207.16 L132.47,209.47 L126.26,211.79 M337.04,65.65 L329.14,70.23 L321.45,82.00 L312.45,98.29 L305.06,108.85 L298.96,117.93 L292.27,124.97 L285.27,131.83 L277.78,139.39 L270.68,146.06 L264.59,151.76 L258.09,156.74 L251.80,161.35 L245.00,165.28 L238.50,168.83 L232.01,172.29 L225.51,175.60 L219.22,178.81 L213.12,181.83 L207.03,184.72 L200.73,187.60 L194.43,190.24 L188.34,192.78 L182.14,195.33 L175.93,197.66 L169.73,200.01 L163.52,202.38 L157.31,204.80 L151.10,207.16 L144.89,209.51 L138.68,211.83 L132.48,214.14 M343.26,69.22 L335.37,74.21 L327.67,86.28 L318.68,101.91 L311.29,112.00 L305.19,120.77 L298.50,127.58 L291.50,134.31 L284.01,141.91 L276.91,148.57 L270.82,154.25 L264.32,159.22 L258.03,163.82 L251.23,167.74 L244.74,171.28 L238.24,174.72 L231.75,178.01 L225.45,181.21 L219.36,184.23 L213.26,187.12 L206.96,189.99 L200.67,192.63 L194.57,195.16 L188.38,197.69 L182.17,200.02 L175.96,202.37 L169.76,204.75 L163.55,207.18 L157.34,209.53 L151.13,211.88 L144.92,214.20 L138.72,216.51 M349.51,73.06 L341.62,78.48 L333.92,90.70 L324.93,105.68 L317.54,115.35 L311.44,123.81 L304.75,130.41 L297.75,137.01 L290.26,144.64 L283.16,151.26 L277.07,156.90 L270.58,161.84 L264.28,166.43 L257.49,170.33 L250.99,173.84 L244.50,177.26 L238.00,180.51 L231.71,183.70 L225.61,186.71 L219.52,189.60 L213.22,192.46 L206.93,195.09 L200.83,197.60 L194.64,200.11 L188.43,202.43 L182.22,204.78 L176.02,207.15 L169.81,209.59 L163.60,211.93 L157.40,214.28 L151.19,216.59 L144.98,218.89 M355.78,77.16 L347.89,83.08 L340.20,95.25 L331.20,109.61 L323.81,118.88 L317.72,127.06 L311.02,133.46 L304.03,139.93 L296.54,147.54 L289.44,154.12 L283.35,159.70 L276.85,164.61 L270.56,169.15 L263.77,173.03 L257.27,176.52 L250.78,179.90 L244.28,183.12 L237.99,186.28 L231.89,189.29 L225.80,192.16 L219.51,195.01 L213.21,197.62 L207.12,200.11 L200.92,202.59 L194.72,204.90 L188.51,207.23 L182.30,209.60 L176.10,212.03 L169.89,214.36 L163.68,216.70 L157.48,218.99 L151.27,221.28 M362.08,81.47 L354.19,87.88 L346.49,99.94 L337.50,113.68 L330.11,122.60 L324.02,130.50 L317.32,136.72 L310.33,143.05 L302.84,150.63 L295.74,157.13 L289.65,162.65 L283.16,167.50 L276.86,171.99 L270.07,175.84 L263.58,179.30 L257.08,182.65 L250.59,185.83 L244.29,188.96 L238.20,191.95 L232.11,194.80 L225.81,197.63 L219.52,200.22 L213.42,202.68 L207.23,205.12 L201.02,207.41 L194.82,209.73 L188.61,212.08 L182.41,214.50 L176.20,216.82 L169.99,219.14 L163.79,221.41 L157.58,223.67 M368.40,85.99 L360.51,92.81 L352.81,104.74 L343.82,117.87 L336.43,126.48 L330.34,134.11 L323.65,140.17 L316.65,146.37 L309.16,153.89 L302.07,160.30 L295.97,165.73 L289.48,170.52 L283.19,174.95 L276.40,178.77 L269.90,182.18 L263.41,185.49 L256.92,188.62 L250.62,191.72 L244.53,194.69 L238.44,197.52 L232.14,200.32 L225.85,202.88 L219.76,205.31 L213.56,207.71 L207.36,209.97 L201.15,212.27 L194.95,214.60 L188.74,217.01 L182.53,219.30 L176.33,221.60 L170.12,223.84 L163.92,226.08 M374.74,91.23 L366.85,98.25 L359.16,109.65 L350.17,122.19 L342.78,130.52 L336.68,137.90 L329.99,143.81 L323.00,149.88 L315.51,157.31 L308.42,163.62 L302.32,168.95 L295.83,173.66 L289.54,178.02 L282.75,181.80 L276.25,185.16 L269.76,188.42 L263.27,191.50 L256.98,194.56 L250.88,197.51 L244.79,200.31 L238.50,203.08 L232.21,205.60 L226.11,208.00 L219.92,210.35 L213.71,212.58 L207.51,214.85 L201.30,217.15 L195.10,219.54 L188.89,221.81 L182.69,224.08 L176.48,226.29 L170.28,228.49 M381.11,96.39 L373.22,103.39 L365.53,114.64 L356.54,126.62 L349.15,134.70 L343.06,141.85 L336.36,147.63 L329.37,153.57 L321.88,160.88 L314.79,167.07 L308.70,172.29 L302.21,176.91 L295.91,181.18 L289.12,184.92 L282.63,188.23 L276.14,191.44 L269.65,194.47 L263.35,197.48 L257.26,200.39 L251.17,203.16 L244.88,205.90 L238.58,208.38 L232.49,210.73 L226.30,213.03 L220.09,215.23 L213.89,217.47 L207.69,219.74 L201.48,222.11 L195.28,224.34 L189.07,226.58 L182.87,228.75 L176.66,230.92 M387.50,101.29 L379.61,108.10 L371.92,119.72 L362.93,131.14 L355.54,139.02 L349.45,145.95 L342.76,151.61 L335.77,157.42 L328.28,164.59 L321.19,170.64 L315.10,175.74 L308.60,180.26 L302.31,184.44 L295.52,188.13 L289.03,191.39 L282.54,194.54 L276.05,197.50 L269.76,200.47 L263.66,203.35 L257.57,206.08 L251.28,208.77 L244.99,211.21 L238.90,213.52 L232.70,215.76 L226.50,217.92 L220.30,220.12 L214.09,222.35 L207.89,224.69 L201.68,226.89 L195.48,229.09 L189.27,231.22 L183.07,233.35 M393.92,107.25 L386.03,113.75 L378.34,124.84 L369.35,135.74 L361.96,143.45 L355.87,150.17 L349.18,155.73 L342.19,161.41 L334.70,168.43 L327.61,174.33 L321.52,179.29 L315.03,183.71 L308.74,187.78 L301.94,191.42 L295.45,194.62 L288.96,197.71 L282.47,200.61 L276.18,203.52 L270.09,206.36 L264.00,209.05 L257.71,211.70 L251.42,214.09 L245.32,216.35 L239.13,218.53 L232.93,220.64 L226.72,222.80 L220.52,225.00 L214.32,227.31 L208.11,229.46 L201.91,231.62 L195.70,233.70 L189.50,235.79 M400.36,113.41 L392.47,119.51 L384.78,130.00 L375.79,140.39 L368.40,147.96 L362.31,154.49 L355.62,159.98 L348.63,165.53 L341.14,172.37 L334.05,178.11 L327.96,182.93 L321.47,187.23 L315.18,191.19 L308.39,194.78 L301.90,197.92 L295.41,200.95 L288.92,203.78 L282.63,206.63 L276.54,209.43 L270.45,212.07 L264.16,214.67 L257.87,217.01 L251.78,219.21 L245.58,221.33 L239.38,223.40 L233.18,225.52 L226.97,227.67 L220.77,229.94 L214.57,232.05 L208.36,234.17 L202.16,236.20 L195.96,238.23 M406.82,119.57 L398.93,125.24 L391.24,135.16 L382.26,145.08 L374.87,152.55 L368.78,158.90 L362.09,164.32 L355.10,169.74 L347.61,176.40 L340.52,181.97 L334.43,186.65 L327.94,190.82 L321.65,194.66 L314.86,198.19 L308.37,201.27 L301.88,204.23 L295.39,206.99 L289.10,209.79 L283.01,212.54 L276.92,215.13 L270.63,217.68 L264.34,219.96 L258.25,222.11 L252.06,224.17 L245.86,226.19 L239.65,228.25 L233.45,230.36 L227.25,232.59 L221.05,234.66 L214.84,236.72 L208.64,238.71 L202.44,240.69 M413.31,126.28 L405.42,131.37 L397.73,140.29 L388.75,149.76 L381.36,157.16 L375.27,163.35 L368.58,168.73 L361.59,174.03 L354.11,180.49 L347.02,185.88 L340.93,190.40 L334.44,194.45 L328.15,198.17 L321.36,201.64 L314.87,204.65 L308.38,207.55 L301.89,210.24 L295.60,212.97 L289.51,215.68 L283.42,218.22 L277.13,220.72 L270.84,222.94 L264.75,225.04 L258.56,227.02 L252.36,228.99 L246.16,231.01 L239.95,233.07 L233.75,235.26 L227.55,237.27 L221.35,239.29 L215.14,241.22 L208.94,243.15 M419.82,132.82 L411.93,137.14 L404.25,145.33 L395.26,154.40 L387.88,161.76 L381.79,167.81 L375.10,173.15 L368.11,178.34 L360.62,184.59 L353.53,189.81 L347.44,194.18 L340.96,198.10 L334.67,201.69 L327.88,205.11 L321.39,208.05 L314.90,210.88 L308.41,213.50 L302.12,216.17 L296.03,218.83 L289.94,221.32 L283.65,223.76 L277.36,225.94 L271.27,227.97 L265.09,229.89 L258.88,231.80 L252.68,233.77 L246.48,235.78 L240.28,237.93 L234.08,239.90 L227.87,241.86 L221.67,243.74 L215.47,245.61 M426.36,139.36 L418.47,143.03 L410.78,150.21 L401.80,158.92 L394.41,166.27 L388.32,172.21 L381.64,177.53 L374.65,182.62 L367.16,188.66 L360.08,193.70 L353.99,197.92 L347.50,201.72 L341.21,205.19 L334.42,208.55 L327.93,211.43 L321.44,214.20 L314.96,216.74 L308.67,219.36 L302.58,221.97 L296.49,224.41 L290.20,226.80 L283.91,228.92 L277.82,230.90 L271.63,232.75 L265.43,234.61 L259.23,236.53 L253.03,238.50 L246.83,240.60 L240.63,242.52 L234.43,244.43 L228.22,246.25 L222.02,248.08 M432.92,145.43 L425.03,148.58 L417.35,154.80 L408.36,163.22 L400.98,170.59 L394.89,176.44 L388.20,181.75 L381.21,186.75 L373.73,192.60 L366.64,197.48 L360.55,201.56 L354.06,205.25 L347.78,208.61 L340.99,211.91 L334.50,214.73 L328.01,217.44 L321.53,219.93 L315.24,222.50 L309.15,225.06 L303.06,227.45 L296.77,229.79 L290.48,231.86 L284.39,233.79 L278.21,235.59 L272.01,237.40 L265.80,239.27 L259.60,241.19 L253.40,243.26 L247.20,245.13 L241.00,247.00 L234.80,248.77 L228.60,250.54 M439.50,150.80 L431.62,153.50 L423.93,158.72 L414.95,166.96 L407.56,174.35 L401.47,180.15 L394.79,185.47 L387.80,190.41 L380.32,196.12 L373.23,200.89 L367.14,204.87 L360.65,208.47 L354.37,211.75 L347.58,215.02 L341.09,217.80 L334.61,220.47 L328.12,222.91 L321.83,225.44 L315.74,227.97 L309.65,230.32 L303.37,232.63 L297.08,234.66 L290.99,236.55 L284.80,238.31 L278.60,240.09 L272.40,241.93 L266.20,243.82 L260.00,245.85 L253.80,247.69 L247.60,249.52 L241.40,251.26 L235.20,253.00" fill="none" stroke="#000" stroke-width="0.62" stroke-linejoin="round" stroke-linecap="round"/>
<line x1="47.30" y1="217.30" x2="47.30" y2="72.49" stroke="#262626" stroke-width="0.70"/>
<line x1="47.30" y1="217.30" x2="229.10" y2="284.20" stroke="#262626" stroke-width="0.70"/>
<line x1="229.10" y1="284.20" x2="465.90" y2="232.30" stroke="#262626" stroke-width="0.70"/>
<line x1="47.30" y1="217.30" x2="41.67" y2="215.23" stroke="#262626" stroke-width="0.70"/>
<line x1="47.30" y1="169.03" x2="41.67" y2="166.96" stroke="#262626" stroke-width="0.70"/>
<line x1="47.30" y1="120.76" x2="41.67" y2="118.69" stroke="#262626" stroke-width="0.70"/>
<line x1="47.30" y1="72.49" x2="41.67" y2="70.42" stroke="#262626" stroke-width="0.70"/>
<line x1="47.30" y1="217.30" x2="40.56" y2="218.78" stroke="#262626" stroke-width="0.70"/>
<line x1="229.10" y1="284.20" x2="234.73" y2="286.27" stroke="#262626" stroke-width="0.70"/>
<line x1="92.75" y1="234.03" x2="86.01" y2="235.50" stroke="#262626" stroke-width="0.70"/>
<line x1="288.30" y1="271.23" x2="293.93" y2="273.30" stroke="#262626" stroke-width="0.70"/>
<line x1="138.20" y1="250.75" x2="131.46" y2="252.23" stroke="#262626" stroke-width="0.70"/>
<line x1="347.50" y1="258.25" x2="353.13" y2="260.32" stroke="#262626" stroke-width="0.70"/>
<line x1="183.65" y1="267.48" x2="176.91" y2="268.95" stroke="#262626" stroke-width="0.70"/>
<line x1="406.70" y1="245.28" x2="412.33" y2="247.35" stroke="#262626" stroke-width="0.70"/>
<line x1="229.10" y1="284.20" x2="222.36" y2="285.68" stroke="#262626" stroke-width="0.70"/>
<line x1="465.90" y1="232.30" x2="471.53" y2="234.37" stroke="#262626" stroke-width="0.70"/>
<rect x="497.50" y="21.70" width="18.00" height="261.80" fill="url(#pg)" stroke="#262626" stroke-width="0.7"/>
<line x1="512.90" y1="273.50" x2="515.50" y2="273.50" stroke="#262626" stroke-width="0.70"/>
<line x1="512.90" y1="219.90" x2="515.50" y2="219.90" stroke="#262626" stroke-width="0.70"/>
<line x1="512.90" y1="166.30" x2="515.50" y2="166.30" stroke="#262626" stroke-width="0.70"/>
<line x1="512.90" y1="112.60" x2="515.50" y2="112.60" stroke="#262626" stroke-width="0.70"/>
<line x1="512.90" y1="59.00" x2="515.50" y2="59.00" stroke="#262626" stroke-width="0.70"/>
<text x="256.30" y="17.20" font-size="15.00" text-anchor="middle" font-weight="bold" fill="#000" >Q-axis Inductances</text>
<text x="36.70" y="75.14" font-size="13.80" text-anchor="end" font-weight="normal" fill="#262626" >3</text>
<text x="36.70" y="123.44" font-size="13.80" text-anchor="end" font-weight="normal" fill="#262626" >2</text>
<text x="36.70" y="171.74" font-size="13.80" text-anchor="end" font-weight="normal" fill="#262626" >1</text>
<text x="36.70" y="220.24" font-size="13.80" text-anchor="end" font-weight="normal" fill="#262626" >0</text>
<text x="33.20" y="234.54" font-size="13.80" text-anchor="middle" font-weight="normal" fill="#262626" >0</text>
<text x="67.40" y="251.04" font-size="13.80" text-anchor="middle" font-weight="normal" fill="#262626" >-200</text>
<text x="113.50" y="267.54" font-size="13.80" text-anchor="middle" font-weight="normal" fill="#262626" >-400</text>
<text x="158.40" y="284.64" font-size="13.80" text-anchor="middle" font-weight="normal" fill="#262626" >-600</text>
<text x="204.00" y="301.24" font-size="13.80" text-anchor="middle" font-weight="normal" fill="#262626" >-800</text>
<text x="250.50" y="301.94" font-size="13.80" text-anchor="middle" font-weight="normal" fill="#262626" >800</text>
<text x="310.60" y="288.74" font-size="13.80" text-anchor="middle" font-weight="normal" fill="#262626" >600</text>
<text x="368.30" y="275.74" font-size="13.80" text-anchor="middle" font-weight="normal" fill="#262626" >400</text>
<text x="427.50" y="263.54" font-size="13.80" text-anchor="middle" font-weight="normal" fill="#262626" >200</text>
<text x="479.20" y="251.74" font-size="13.80" text-anchor="middle" font-weight="normal" fill="#262626" >0</text>
<text x="520.40" y="278.30" font-size="12.30" text-anchor="start" font-weight="normal" fill="#262626" >0.5</text>
<text x="520.40" y="224.70" font-size="12.30" text-anchor="start" font-weight="normal" fill="#262626" >1</text>
<text x="520.40" y="171.10" font-size="12.30" text-anchor="start" font-weight="normal" fill="#262626" >1.5</text>
<text x="520.40" y="117.40" font-size="12.30" text-anchor="start" font-weight="normal" fill="#262626" >2</text>
<text x="520.40" y="63.80" font-size="12.30" text-anchor="start" font-weight="normal" fill="#262626" >2.5</text>
<text x="9.10" y="56.00" font-size="13.80" fill="#262626"><tspan font-size="15.8" dy="1.6">×</tspan><tspan dy="-1.6" dx="0.8">10</tspan><tspan dy="-7.4" dx="-0.6" font-size="10.7">-4</tspan></text>
<text x="516.60" y="14.80" font-size="12.30" fill="#262626"><tspan font-size="14.4" dy="1.3">×</tspan><tspan dy="-1.3" dx="0.9">10</tspan><tspan dy="-6.8" dx="-0.6" font-size="10.3">-4</tspan></text>
<text x="84.5" y="306.1" font-size="14.85" fill="#262626">I<tspan dy="7.4" font-size="13.0">d</tspan><tspan dy="-7.4"> [Apk]</tspan></text>
<text x="333.4" y="309.1" font-size="14.85" fill="#262626">I<tspan dy="7.4" font-size="13.0">q</tspan><tspan dy="-7.4"> [Apk]</tspan></text>
<text transform="translate(15.3,163.6) rotate(-90)" font-size="14.85" fill="#262626">L<tspan dy="7.4" font-size="13.0">q</tspan><tspan dy="-7.4"> [H]</tspan></text></svg></body></html>
